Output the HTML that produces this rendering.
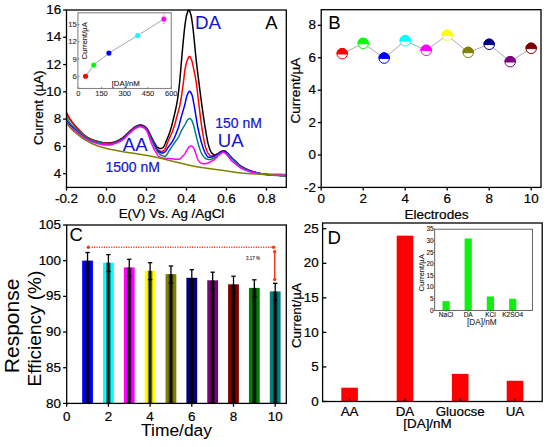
<!DOCTYPE html>
<html><head><meta charset="utf-8"><style>
html,body{margin:0;padding:0;background:#fff;}
svg{display:block;font-family:"Liberation Sans", sans-serif;}
</style></head><body>
<svg width="550" height="447" viewBox="0 0 550 447">
<rect width="550" height="447" fill="#fff"/>
<g>
<path d="M66.50,113.00 L66.74,113.47 L66.99,113.93 L67.23,114.39 L67.48,114.84 L67.72,115.29 L67.97,115.72 L68.21,116.16 L68.46,116.58 L68.70,117.00 L68.94,117.42 L69.19,117.83 L69.43,118.23 L69.68,118.62 L69.92,119.01 L70.17,119.39 L70.41,119.77 L70.66,120.14 L70.90,120.50 L71.15,120.85 L71.39,121.20 L71.63,121.54 L71.88,121.87 L72.12,122.20 L72.37,122.52 L72.61,122.84 L72.86,123.16 L73.10,123.47 L73.35,123.77 L73.59,124.08 L73.83,124.38 L74.08,124.67 L74.32,124.97 L74.57,125.26 L74.81,125.54 L75.06,125.82 L75.30,126.10 L75.55,126.37 L75.79,126.64 L76.04,126.91 L76.28,127.18 L76.52,127.44 L76.77,127.71 L77.01,127.98 L77.26,128.24 L77.50,128.51 L77.75,128.78 L77.99,129.05 L78.24,129.32 L78.48,129.59 L78.72,129.85 L78.97,130.12 L79.21,130.38 L79.46,130.64 L79.70,130.90 L79.95,131.15 L80.19,131.39 L80.44,131.64 L80.68,131.89 L80.93,132.13 L81.17,132.38 L81.41,132.62 L81.66,132.86 L81.90,133.10 L82.15,133.34 L82.39,133.57 L82.64,133.80 L82.88,134.02 L83.13,134.25 L83.37,134.46 L83.61,134.68 L83.86,134.88 L84.10,135.09 L84.35,135.29 L84.59,135.49 L84.84,135.68 L85.08,135.87 L85.33,136.06 L85.57,136.24 L85.82,136.42 L86.06,136.59 L86.30,136.75 L86.55,136.91 L86.79,137.05 L87.04,137.20 L87.28,137.34 L87.53,137.47 L87.77,137.61 L88.02,137.74 L88.26,137.87 L88.50,138.00 L88.75,138.13 L88.99,138.25 L89.24,138.37 L89.48,138.49 L89.73,138.61 L89.97,138.72 L90.22,138.83 L90.46,138.94 L90.70,139.05 L90.95,139.16 L91.19,139.26 L91.44,139.36 L91.68,139.46 L91.93,139.56 L92.17,139.66 L92.42,139.75 L92.66,139.84 L92.91,139.93 L93.15,140.01 L93.39,140.10 L93.64,140.18 L93.88,140.26 L94.13,140.34 L94.37,140.42 L94.62,140.49 L94.86,140.57 L95.11,140.64 L95.35,140.71 L95.59,140.78 L95.84,140.85 L96.08,140.91 L96.33,140.98 L96.57,141.05 L96.82,141.11 L97.06,141.17 L97.31,141.23 L97.55,141.30 L97.80,141.36 L98.04,141.42 L98.28,141.47 L98.53,141.53 L98.77,141.59 L99.02,141.65 L99.26,141.71 L99.51,141.76 L99.75,141.82 L100.00,141.88 L100.24,141.93 L100.48,141.99 L100.73,142.06 L100.97,142.12 L101.22,142.19 L101.46,142.25 L101.71,142.32 L101.95,142.39 L102.20,142.45 L102.44,142.51 L102.69,142.57 L102.93,142.63 L103.17,142.69 L103.42,142.73 L103.66,142.78 L103.91,142.82 L104.15,142.85 L104.40,142.87 L104.64,142.89 L104.89,142.90 L105.13,142.90 L105.37,142.90 L105.62,142.90 L105.86,142.90 L106.11,142.90 L106.35,142.90 L106.60,142.90 L106.84,142.90 L107.09,142.90 L107.33,142.90 L107.57,142.90 L107.82,142.90 L108.06,142.90 L108.31,142.90 L108.55,142.90 L108.80,142.90 L109.04,142.90 L109.29,142.90 L109.53,142.90 L109.78,142.90 L110.02,142.88 L110.26,142.87 L110.51,142.85 L110.75,142.82 L111.00,142.78 L111.24,142.75 L111.49,142.70 L111.73,142.66 L111.98,142.61 L112.22,142.55 L112.46,142.49 L112.71,142.43 L112.95,142.37 L113.20,142.31 L113.44,142.24 L113.69,142.17 L113.93,142.10 L114.18,142.04 L114.42,141.97 L114.67,141.90 L114.91,141.83 L115.15,141.76 L115.40,141.68 L115.64,141.60 L115.89,141.51 L116.13,141.42 L116.38,141.33 L116.62,141.23 L116.87,141.12 L117.11,141.01 L117.35,140.90 L117.60,140.78 L117.84,140.66 L118.09,140.54 L118.33,140.41 L118.58,140.28 L118.82,140.15 L119.07,140.01 L119.31,139.87 L119.56,139.73 L119.80,139.58 L120.04,139.44 L120.29,139.29 L120.53,139.14 L120.78,138.98 L121.02,138.83 L121.27,138.67 L121.51,138.52 L121.76,138.36 L122.00,138.20 L122.24,138.04 L122.49,137.87 L122.73,137.69 L122.98,137.50 L123.22,137.31 L123.47,137.11 L123.71,136.90 L123.96,136.69 L124.20,136.48 L124.45,136.26 L124.69,136.04 L124.93,135.81 L125.18,135.58 L125.42,135.34 L125.67,135.11 L125.91,134.87 L126.16,134.63 L126.40,134.39 L126.65,134.15 L126.89,133.91 L127.13,133.67 L127.38,133.43 L127.62,133.19 L127.87,132.95 L128.11,132.71 L128.36,132.48 L128.60,132.25 L128.85,132.02 L129.09,131.79 L129.33,131.57 L129.58,131.36 L129.82,131.15 L130.07,130.94 L130.31,130.73 L130.56,130.52 L130.80,130.31 L131.05,130.09 L131.29,129.87 L131.54,129.65 L131.78,129.43 L132.02,129.21 L132.27,128.99 L132.51,128.77 L132.76,128.56 L133.00,128.34 L133.25,128.14 L133.49,127.93 L133.74,127.74 L133.98,127.54 L134.22,127.36 L134.47,127.18 L134.71,127.02 L134.96,126.86 L135.20,126.71 L135.45,126.57 L135.69,126.44 L135.94,126.33 L136.18,126.22 L136.43,126.12 L136.67,126.01 L136.91,125.90 L137.16,125.80 L137.40,125.70 L137.65,125.60 L137.89,125.50 L138.14,125.41 L138.38,125.32 L138.63,125.24 L138.87,125.17 L139.11,125.10 L139.36,125.05 L139.60,125.00 L139.85,124.96 L140.09,124.93 L140.34,124.91 L140.58,124.90 L140.83,124.91 L141.07,124.93 L141.32,124.97 L141.56,125.02 L141.80,125.08 L142.05,125.16 L142.29,125.24 L142.54,125.34 L142.78,125.44 L143.03,125.54 L143.27,125.66 L143.52,125.77 L143.76,125.89 L144.00,126.00 L144.25,126.13 L144.49,126.28 L144.74,126.44 L144.98,126.62 L145.23,126.82 L145.47,127.03 L145.72,127.26 L145.96,127.50 L146.21,127.75 L146.45,128.01 L146.69,128.28 L146.94,128.56 L147.18,128.88 L147.43,129.23 L147.67,129.62 L147.92,130.03 L148.16,130.46 L148.41,130.91 L148.65,131.39 L148.89,131.87 L149.14,132.37 L149.38,132.88 L149.63,133.39 L149.87,133.91 L150.12,134.42 L150.36,134.93 L150.61,135.44 L150.85,135.93 L151.09,136.41 L151.34,136.87 L151.58,137.34 L151.83,137.81 L152.07,138.28 L152.32,138.76 L152.56,139.24 L152.81,139.72 L153.05,140.20 L153.30,140.67 L153.54,141.13 L153.78,141.58 L154.03,142.02 L154.27,142.45 L154.52,142.86 L154.76,143.27 L155.01,143.68 L155.25,144.10 L155.50,144.52 L155.74,144.93 L155.98,145.33 L156.23,145.71 L156.47,146.07 L156.72,146.40 L156.96,146.70 L157.21,146.96 L157.45,147.16 L157.70,147.34 L157.94,147.51 L158.19,147.67 L158.43,147.83 L158.67,147.98 L158.92,148.12 L159.16,148.25 L159.41,148.36 L159.65,148.45 L159.90,148.52 L160.14,148.57 L160.39,148.60 L160.63,148.60 L160.87,148.57 L161.12,148.51 L161.36,148.43 L161.61,148.33 L161.85,148.22 L162.10,148.08 L162.34,147.94 L162.59,147.78 L162.83,147.62 L163.08,147.44 L163.32,147.21 L163.56,146.91 L163.81,146.54 L164.05,146.12 L164.30,145.65 L164.54,145.15 L164.79,144.60 L165.03,144.03 L165.28,143.45 L165.52,142.85 L165.76,142.25 L166.01,141.65 L166.25,141.07 L166.50,140.50 L166.74,139.95 L166.99,139.38 L167.23,138.81 L167.48,138.23 L167.72,137.64 L167.96,137.04 L168.21,136.43 L168.45,135.81 L168.70,135.17 L168.94,134.52 L169.19,133.85 L169.43,133.17 L169.68,132.48 L169.92,131.76 L170.17,131.03 L170.41,130.28 L170.65,129.51 L170.90,128.70 L171.14,127.87 L171.39,127.00 L171.63,126.11 L171.88,125.19 L172.12,124.25 L172.37,123.29 L172.61,122.31 L172.85,121.31 L173.10,120.30 L173.34,119.28 L173.59,118.25 L173.83,117.21 L174.08,116.17 L174.32,115.14 L174.57,114.11 L174.81,113.07 L175.06,112.03 L175.30,110.97 L175.54,109.89 L175.79,108.78 L176.03,107.64 L176.28,106.46 L176.52,105.22 L176.77,103.94 L177.01,102.59 L177.26,101.17 L177.50,99.67 L177.74,98.05 L177.99,96.30 L178.23,94.44 L178.48,92.47 L178.72,90.40 L178.97,88.26 L179.21,86.04 L179.46,83.76 L179.70,81.42 L179.95,78.89 L180.19,76.19 L180.43,73.37 L180.68,70.48 L180.92,67.56 L181.17,64.67 L181.41,61.86 L181.66,59.07 L181.90,56.25 L182.15,53.43 L182.39,50.64 L182.63,47.91 L182.88,45.27 L183.12,42.72 L183.37,40.17 L183.61,37.64 L183.86,35.14 L184.10,32.72 L184.35,30.41 L184.59,28.24 L184.84,26.24 L185.08,24.43 L185.32,22.69 L185.57,21.01 L185.81,19.41 L186.06,17.93 L186.30,16.60 L186.55,15.46 L186.79,14.53 L187.04,13.73 L187.28,12.94 L187.52,12.19 L187.77,11.51 L188.01,10.93 L188.26,10.46 L188.50,10.15 L188.75,10.00 L188.99,10.06 L189.24,10.30 L189.48,10.71 L189.72,11.24 L189.97,11.89 L190.21,12.61 L190.46,13.38 L190.70,14.18 L190.95,15.03 L191.19,16.08 L191.44,17.33 L191.68,18.75 L191.93,20.30 L192.17,21.95 L192.41,23.67 L192.66,25.43 L192.90,27.37 L193.15,29.51 L193.39,31.81 L193.64,34.23 L193.88,36.72 L194.13,39.23 L194.37,41.72 L194.61,44.14 L194.86,46.58 L195.10,49.07 L195.35,51.59 L195.59,54.09 L195.84,56.54 L196.08,58.90 L196.33,61.15 L196.57,63.32 L196.82,65.45 L197.06,67.53 L197.30,69.57 L197.55,71.58 L197.79,73.56 L198.04,75.53 L198.28,77.48 L198.53,79.43 L198.77,81.37 L199.02,83.32 L199.26,85.27 L199.50,87.21 L199.75,89.14 L199.99,91.06 L200.24,92.96 L200.48,94.85 L200.73,96.72 L200.97,98.58 L201.22,100.41 L201.46,102.22 L201.71,104.01 L201.95,105.78 L202.19,107.54 L202.44,109.30 L202.68,111.05 L202.93,112.78 L203.17,114.50 L203.42,116.20 L203.66,117.88 L203.91,119.53 L204.15,121.15 L204.39,122.74 L204.64,124.29 L204.88,125.80 L205.13,127.27 L205.37,128.73 L205.62,130.20 L205.86,131.67 L206.11,133.14 L206.35,134.59 L206.59,136.00 L206.84,137.38 L207.08,138.72 L207.33,139.99 L207.57,141.20 L207.82,142.33 L208.06,143.38 L208.31,144.32 L208.55,145.17 L208.80,145.97 L209.04,146.75 L209.28,147.52 L209.53,148.25 L209.77,148.96 L210.02,149.63 L210.26,150.26 L210.51,150.84 L210.75,151.38 L211.00,151.86 L211.24,152.28 L211.48,152.64 L211.73,152.93 L211.97,153.16 L212.22,153.39 L212.46,153.61 L212.71,153.82 L212.95,154.01 L213.20,154.19 L213.44,154.35 L213.69,154.49 L213.93,154.60 L214.17,154.70 L214.42,154.76 L214.66,154.79 L214.91,154.80 L215.15,154.78 L215.40,154.73 L215.64,154.67 L215.89,154.60 L216.13,154.51 L216.37,154.41 L216.62,154.30 L216.86,154.18 L217.11,154.05 L217.35,153.93 L217.60,153.80 L217.84,153.68 L218.09,153.56 L218.33,153.41 L218.58,153.24 L218.82,153.06 L219.06,152.86 L219.31,152.66 L219.55,152.45 L219.80,152.25 L220.04,152.06 L220.29,151.88 L220.53,151.72 L220.78,151.59 L221.02,151.49 L221.26,151.41 L221.51,151.33 L221.75,151.25 L222.00,151.17 L222.24,151.10 L222.49,151.03 L222.73,150.97 L222.98,150.92 L223.22,150.88 L223.47,150.84 L223.71,150.82 L223.95,150.80 L224.20,150.80 L224.44,150.84 L224.69,150.92 L224.93,151.03 L225.18,151.16 L225.42,151.32 L225.67,151.50 L225.91,151.70 L226.15,151.90 L226.40,152.10 L226.64,152.31 L226.89,152.51 L227.13,152.71 L227.38,152.92 L227.62,153.15 L227.87,153.39 L228.11,153.65 L228.35,153.93 L228.60,154.21 L228.84,154.50 L229.09,154.79 L229.33,155.09 L229.58,155.39 L229.82,155.69 L230.07,155.99 L230.31,156.29 L230.56,156.58 L230.80,156.86 L231.04,157.13 L231.29,157.39 L231.53,157.63 L231.78,157.87 L232.02,158.11 L232.27,158.34 L232.51,158.57 L232.76,158.79 L233.00,159.02 L233.24,159.24 L233.49,159.45 L233.73,159.67 L233.98,159.89 L234.22,160.10 L234.47,160.32 L234.71,160.53 L234.96,160.75 L235.20,160.97 L235.45,161.19 L235.69,161.41 L235.93,161.63 L236.18,161.86 L236.42,162.09 L236.67,162.33 L236.91,162.57 L237.16,162.81 L237.40,163.05 L237.65,163.30 L237.89,163.54 L238.13,163.77 L238.38,164.01 L238.62,164.24 L238.87,164.46 L239.11,164.68 L239.36,164.89 L239.60,165.09 L239.85,165.28 L240.09,165.47 L240.34,165.64 L240.58,165.81 L240.82,165.98 L241.07,166.15 L241.31,166.31 L241.56,166.47 L241.80,166.62 L242.05,166.78 L242.29,166.92 L242.54,167.07 L242.78,167.21 L243.02,167.35 L243.27,167.49 L243.51,167.63 L243.76,167.76 L244.00,167.89 L244.25,168.02 L244.49,168.14 L244.74,168.27 L244.98,168.39 L245.23,168.51 L245.47,168.63 L245.71,168.75 L245.96,168.87 L246.20,168.98 L246.45,169.10 L246.69,169.21 L246.94,169.32 L247.18,169.44 L247.43,169.54 L247.67,169.65 L247.91,169.76 L248.16,169.87 L248.40,169.97 L248.65,170.07 L248.89,170.17 L249.14,170.27 L249.38,170.37 L249.63,170.47 L249.87,170.56 L250.11,170.65 L250.36,170.74 L250.60,170.83 L250.85,170.92 L251.09,171.00 L251.34,171.09 L251.58,171.17 L251.83,171.25 L252.07,171.32 L252.32,171.40 L252.56,171.47 L252.80,171.55 L253.05,171.62 L253.29,171.70 L253.54,171.77 L253.78,171.84 L254.03,171.92 L254.27,171.99 L254.52,172.06 L254.76,172.13 L255.00,172.20 L255.25,172.27 L255.49,172.34 L255.74,172.40 L255.98,172.47 L256.23,172.54 L256.47,172.60 L256.72,172.67 L256.96,172.73 L257.21,172.79 L257.45,172.85 L257.69,172.91 L257.94,172.97 L258.18,173.03 L258.43,173.09 L258.67,173.15 L258.92,173.20 L259.16,173.26 L259.41,173.31 L259.65,173.36 L259.89,173.41 L260.14,173.46 L260.38,173.51 L260.63,173.56 L260.87,173.60 L261.12,173.65 L261.36,173.69 L261.61,173.73 L261.85,173.77 L262.10,173.81 L262.34,173.85 L262.58,173.88 L262.83,173.92 L263.07,173.95 L263.32,173.99 L263.56,174.02 L263.81,174.05 L264.05,174.08 L264.30,174.11 L264.54,174.15 L264.78,174.18 L265.03,174.21 L265.27,174.24 L265.52,174.27 L265.76,174.29 L266.01,174.32 L266.25,174.35 L266.50,174.38 L266.74,174.41 L266.98,174.43 L267.23,174.46 L267.47,174.49 L267.72,174.51 L267.96,174.54 L268.21,174.56 L268.45,174.58 L268.70,174.61 L268.94,174.63 L269.19,174.66 L269.43,174.68 L269.67,174.70 L269.92,174.72 L270.16,174.74 L270.41,174.77 L270.65,174.79 L270.90,174.81 L271.14,174.83 L271.39,174.85 L271.63,174.87 L271.87,174.89 L272.12,174.90 L272.36,174.92 L272.61,174.94 L272.85,174.96 L273.10,174.98 L273.34,174.99 L273.59,175.01 L273.83,175.03 L274.08,175.04 L274.32,175.06 L274.56,175.07 L274.81,175.09 L275.05,175.10 L275.30,175.12 L275.54,175.13 L275.79,175.15 L276.03,175.16 L276.28,175.18 L276.52,175.19 L276.76,175.20 L277.01,175.22 L277.25,175.23 L277.50,175.25 L277.74,175.26 L277.99,175.27 L278.23,175.29 L278.48,175.30 L278.72,175.31 L278.97,175.32 L279.21,175.34 L279.45,175.35 L279.70,175.36 L279.94,175.37 L280.19,175.39 L280.43,175.40 L280.68,175.41 L280.92,175.42 L281.17,175.43 L281.41,175.44 L281.65,175.45 L281.90,175.46 L282.14,175.47 L282.39,175.48 L282.63,175.49 L282.88,175.50 L283.12,175.51 L283.37,175.52 L283.61,175.53 L283.86,175.54 L284.10,175.54 L284.34,175.55 L284.59,175.56 L284.83,175.56 L285.08,175.57 L285.32,175.58 L285.57,175.58 L285.81,175.59 L286.06,175.59 L286.30,175.60" fill="none" stroke="#000000" stroke-width="1.5" stroke-linejoin="round"/>
<path d="M66.50,112.50 L66.74,112.99 L66.99,113.48 L67.23,113.96 L67.48,114.43 L67.72,114.89 L67.97,115.35 L68.21,115.80 L68.46,116.25 L68.70,116.69 L68.94,117.12 L69.19,117.54 L69.43,117.96 L69.68,118.37 L69.92,118.77 L70.17,119.17 L70.41,119.55 L70.66,119.93 L70.90,120.31 L71.15,120.67 L71.39,121.03 L71.63,121.38 L71.88,121.72 L72.12,122.06 L72.37,122.39 L72.61,122.71 L72.86,123.03 L73.10,123.35 L73.35,123.66 L73.59,123.97 L73.83,124.27 L74.08,124.57 L74.32,124.87 L74.57,125.16 L74.81,125.45 L75.06,125.73 L75.30,126.00 L75.55,126.28 L75.79,126.55 L76.04,126.82 L76.28,127.08 L76.52,127.35 L76.77,127.61 L77.01,127.88 L77.26,128.14 L77.50,128.41 L77.75,128.68 L77.99,128.95 L78.24,129.22 L78.48,129.49 L78.72,129.75 L78.97,130.02 L79.21,130.28 L79.46,130.54 L79.70,130.80 L79.95,131.05 L80.19,131.29 L80.44,131.54 L80.68,131.79 L80.93,132.03 L81.17,132.28 L81.41,132.52 L81.66,132.76 L81.90,133.00 L82.15,133.24 L82.39,133.47 L82.64,133.70 L82.88,133.92 L83.13,134.15 L83.37,134.36 L83.61,134.58 L83.86,134.78 L84.10,134.99 L84.35,135.19 L84.59,135.38 L84.84,135.58 L85.08,135.77 L85.33,135.95 L85.57,136.13 L85.82,136.31 L86.06,136.48 L86.30,136.65 L86.55,136.80 L86.79,136.96 L87.04,137.11 L87.28,137.26 L87.53,137.40 L87.77,137.55 L88.02,137.69 L88.26,137.83 L88.50,137.97 L88.75,138.11 L88.99,138.25 L89.24,138.38 L89.48,138.51 L89.73,138.64 L89.97,138.77 L90.22,138.90 L90.46,139.02 L90.70,139.14 L90.95,139.26 L91.19,139.38 L91.44,139.49 L91.68,139.60 L91.93,139.71 L92.17,139.81 L92.42,139.92 L92.66,140.02 L92.91,140.11 L93.15,140.21 L93.39,140.30 L93.64,140.39 L93.88,140.47 L94.13,140.56 L94.37,140.64 L94.62,140.72 L94.86,140.80 L95.11,140.88 L95.35,140.95 L95.59,141.03 L95.84,141.10 L96.08,141.17 L96.33,141.24 L96.57,141.31 L96.82,141.38 L97.06,141.44 L97.31,141.51 L97.55,141.57 L97.80,141.64 L98.04,141.70 L98.28,141.76 L98.53,141.82 L98.77,141.88 L99.02,141.94 L99.26,142.00 L99.51,142.06 L99.75,142.12 L100.00,142.18 L100.24,142.23 L100.48,142.29 L100.73,142.35 L100.97,142.42 L101.22,142.48 L101.46,142.55 L101.71,142.61 L101.95,142.67 L102.20,142.73 L102.44,142.79 L102.69,142.85 L102.93,142.91 L103.17,142.96 L103.42,143.01 L103.66,143.05 L103.91,143.09 L104.15,143.13 L104.40,143.16 L104.64,143.18 L104.89,143.19 L105.13,143.21 L105.37,143.21 L105.62,143.22 L105.86,143.23 L106.11,143.24 L106.35,143.25 L106.60,143.26 L106.84,143.26 L107.09,143.27 L107.33,143.27 L107.57,143.28 L107.82,143.28 L108.06,143.29 L108.31,143.29 L108.55,143.29 L108.80,143.30 L109.04,143.30 L109.29,143.30 L109.53,143.30 L109.78,143.30 L110.02,143.29 L110.26,143.27 L110.51,143.25 L110.75,143.23 L111.00,143.20 L111.24,143.16 L111.49,143.12 L111.73,143.08 L111.98,143.03 L112.22,142.99 L112.46,142.93 L112.71,142.88 L112.95,142.82 L113.20,142.76 L113.44,142.70 L113.69,142.64 L113.93,142.58 L114.18,142.52 L114.42,142.45 L114.67,142.39 L114.91,142.32 L115.15,142.26 L115.40,142.19 L115.64,142.11 L115.89,142.03 L116.13,141.95 L116.38,141.85 L116.62,141.76 L116.87,141.66 L117.11,141.55 L117.35,141.44 L117.60,141.33 L117.84,141.21 L118.09,141.09 L118.33,140.97 L118.58,140.84 L118.82,140.71 L119.07,140.58 L119.31,140.44 L119.56,140.30 L119.80,140.16 L120.04,140.02 L120.29,139.87 L120.53,139.72 L120.78,139.57 L121.02,139.42 L121.27,139.27 L121.51,139.11 L121.76,138.96 L122.00,138.80 L122.24,138.64 L122.49,138.47 L122.73,138.29 L122.98,138.10 L123.22,137.91 L123.47,137.71 L123.71,137.50 L123.96,137.29 L124.20,137.07 L124.45,136.85 L124.69,136.62 L124.93,136.39 L125.18,136.16 L125.42,135.92 L125.67,135.68 L125.91,135.44 L126.16,135.19 L126.40,134.95 L126.65,134.70 L126.89,134.45 L127.13,134.21 L127.38,133.96 L127.62,133.72 L127.87,133.48 L128.11,133.23 L128.36,133.00 L128.60,132.76 L128.85,132.53 L129.09,132.30 L129.33,132.08 L129.58,131.86 L129.82,131.65 L130.07,131.44 L130.31,131.23 L130.56,131.02 L130.80,130.80 L131.05,130.59 L131.29,130.37 L131.54,130.15 L131.78,129.92 L132.02,129.70 L132.27,129.48 L132.51,129.27 L132.76,129.05 L133.00,128.84 L133.25,128.63 L133.49,128.43 L133.74,128.23 L133.98,128.04 L134.22,127.86 L134.47,127.68 L134.71,127.51 L134.96,127.36 L135.20,127.21 L135.45,127.07 L135.69,126.94 L135.94,126.83 L136.18,126.72 L136.43,126.62 L136.67,126.51 L136.91,126.40 L137.16,126.30 L137.40,126.20 L137.65,126.10 L137.89,126.00 L138.14,125.91 L138.38,125.82 L138.63,125.74 L138.87,125.67 L139.11,125.60 L139.36,125.55 L139.60,125.50 L139.85,125.46 L140.09,125.43 L140.34,125.41 L140.58,125.40 L140.83,125.41 L141.07,125.43 L141.32,125.47 L141.56,125.52 L141.80,125.58 L142.05,125.66 L142.29,125.74 L142.54,125.84 L142.78,125.94 L143.03,126.04 L143.27,126.15 L143.52,126.27 L143.76,126.38 L144.00,126.50 L144.25,126.63 L144.49,126.78 L144.74,126.95 L144.98,127.14 L145.23,127.35 L145.47,127.57 L145.72,127.81 L145.96,128.06 L146.21,128.32 L146.45,128.59 L146.69,128.88 L146.94,129.17 L147.18,129.49 L147.43,129.85 L147.67,130.24 L147.92,130.65 L148.16,131.09 L148.41,131.55 L148.65,132.02 L148.89,132.51 L149.14,133.01 L149.38,133.52 L149.63,134.04 L149.87,134.56 L150.12,135.08 L150.36,135.59 L150.61,136.10 L150.85,136.61 L151.09,137.10 L151.34,137.58 L151.58,138.05 L151.83,138.54 L152.07,139.02 L152.32,139.52 L152.56,140.01 L152.81,140.50 L153.05,140.99 L153.30,141.49 L153.54,141.97 L153.78,142.45 L154.03,142.93 L154.27,143.39 L154.52,143.85 L154.76,144.30 L155.01,144.77 L155.25,145.26 L155.50,145.76 L155.74,146.26 L155.98,146.75 L156.23,147.23 L156.47,147.70 L156.72,148.14 L156.96,148.55 L157.21,148.92 L157.45,149.25 L157.70,149.53 L157.94,149.76 L158.19,149.93 L158.43,150.11 L158.67,150.27 L158.92,150.43 L159.16,150.59 L159.41,150.73 L159.65,150.87 L159.90,150.99 L160.14,151.10 L160.39,151.19 L160.63,151.27 L160.87,151.33 L161.12,151.37 L161.36,151.40 L161.61,151.40 L161.85,151.37 L162.10,151.32 L162.34,151.24 L162.59,151.14 L162.83,151.03 L163.08,150.89 L163.32,150.75 L163.56,150.59 L163.81,150.43 L164.05,150.26 L164.30,150.04 L164.54,149.74 L164.79,149.37 L165.03,148.95 L165.28,148.47 L165.52,147.94 L165.76,147.37 L166.01,146.77 L166.25,146.15 L166.50,145.50 L166.74,144.84 L166.99,144.17 L167.23,143.50 L167.48,142.84 L167.72,142.19 L167.96,141.56 L168.21,140.95 L168.45,140.38 L168.70,139.82 L168.94,139.27 L169.19,138.72 L169.43,138.18 L169.68,137.64 L169.92,137.11 L170.17,136.57 L170.41,136.03 L170.65,135.49 L170.90,134.95 L171.14,134.40 L171.39,133.84 L171.63,133.27 L171.88,132.70 L172.12,132.11 L172.37,131.51 L172.61,130.90 L172.85,130.28 L173.10,129.63 L173.34,128.97 L173.59,128.29 L173.83,127.59 L174.08,126.87 L174.32,126.10 L174.57,125.28 L174.81,124.42 L175.06,123.53 L175.30,122.61 L175.54,121.66 L175.79,120.71 L176.03,119.75 L176.28,118.78 L176.52,117.83 L176.77,116.88 L177.01,115.96 L177.26,115.06 L177.50,114.20 L177.74,113.35 L177.99,112.51 L178.23,111.66 L178.48,110.81 L178.72,109.94 L178.97,109.04 L179.21,108.10 L179.46,107.11 L179.70,106.07 L179.95,104.96 L180.19,103.77 L180.43,102.48 L180.68,101.11 L180.92,99.67 L181.17,98.15 L181.41,96.57 L181.66,94.94 L181.90,93.25 L182.15,91.54 L182.39,89.79 L182.63,88.01 L182.88,86.22 L183.12,84.43 L183.37,82.63 L183.61,80.74 L183.86,78.64 L184.10,76.44 L184.35,74.28 L184.59,72.25 L184.84,70.48 L185.08,69.08 L185.32,67.82 L185.57,66.63 L185.81,65.51 L186.06,64.47 L186.30,63.50 L186.55,62.60 L186.79,61.77 L187.04,61.02 L187.28,60.34 L187.52,59.74 L187.77,59.16 L188.01,58.58 L188.26,58.02 L188.50,57.51 L188.75,57.07 L188.99,56.72 L189.24,56.49 L189.48,56.40 L189.72,56.47 L189.97,56.67 L190.21,57.00 L190.46,57.42 L190.70,57.92 L190.95,58.47 L191.19,59.05 L191.44,59.65 L191.68,60.28 L191.93,61.05 L192.17,61.94 L192.41,62.94 L192.66,64.02 L192.90,65.16 L193.15,66.34 L193.39,67.53 L193.64,68.72 L193.88,69.88 L194.13,71.05 L194.37,72.23 L194.61,73.44 L194.86,74.69 L195.10,75.97 L195.35,77.30 L195.59,78.69 L195.84,80.13 L196.08,81.64 L196.33,83.24 L196.57,84.98 L196.82,86.86 L197.06,88.84 L197.30,90.91 L197.55,93.03 L197.79,95.19 L198.04,97.35 L198.28,99.50 L198.53,101.61 L198.77,103.66 L199.02,105.63 L199.26,107.61 L199.50,109.61 L199.75,111.62 L199.99,113.62 L200.24,115.60 L200.48,117.56 L200.73,119.47 L200.97,121.33 L201.22,123.13 L201.46,124.86 L201.71,126.49 L201.95,128.05 L202.19,129.59 L202.44,131.12 L202.68,132.64 L202.93,134.13 L203.17,135.59 L203.42,137.02 L203.66,138.41 L203.91,139.75 L204.15,141.03 L204.39,142.26 L204.64,143.41 L204.88,144.50 L205.13,145.50 L205.37,146.42 L205.62,147.25 L205.86,148.03 L206.11,148.76 L206.35,149.46 L206.59,150.12 L206.84,150.73 L207.08,151.30 L207.33,151.83 L207.57,152.30 L207.82,152.72 L208.06,153.09 L208.31,153.44 L208.55,153.79 L208.80,154.14 L209.04,154.47 L209.28,154.78 L209.53,155.07 L209.77,155.33 L210.02,155.56 L210.26,155.74 L210.51,155.88 L210.75,155.97 L211.00,156.00 L211.24,156.00 L211.48,155.98 L211.73,155.96 L211.97,155.93 L212.22,155.89 L212.46,155.85 L212.71,155.80 L212.95,155.74 L213.20,155.69 L213.44,155.63 L213.69,155.57 L213.93,155.52 L214.17,155.46 L214.42,155.39 L214.66,155.31 L214.91,155.23 L215.15,155.14 L215.40,155.04 L215.64,154.94 L215.89,154.83 L216.13,154.72 L216.37,154.61 L216.62,154.49 L216.86,154.37 L217.11,154.25 L217.35,154.13 L217.60,154.00 L217.84,153.88 L218.09,153.76 L218.33,153.62 L218.58,153.47 L218.82,153.31 L219.06,153.15 L219.31,152.98 L219.55,152.81 L219.80,152.65 L220.04,152.49 L220.29,152.34 L220.53,152.21 L220.78,152.09 L221.02,151.99 L221.26,151.90 L221.51,151.81 L221.75,151.72 L222.00,151.64 L222.24,151.56 L222.49,151.48 L222.73,151.41 L222.98,151.35 L223.22,151.29 L223.47,151.25 L223.71,151.22 L223.95,151.20 L224.20,151.20 L224.44,151.24 L224.69,151.31 L224.93,151.41 L225.18,151.54 L225.42,151.69 L225.67,151.86 L225.91,152.04 L226.15,152.23 L226.40,152.43 L226.64,152.62 L226.89,152.82 L227.13,153.00 L227.38,153.21 L227.62,153.43 L227.87,153.67 L228.11,153.92 L228.35,154.18 L228.60,154.46 L228.84,154.74 L229.09,155.03 L229.33,155.32 L229.58,155.62 L229.82,155.92 L230.07,156.21 L230.31,156.50 L230.56,156.79 L230.80,157.06 L231.04,157.33 L231.29,157.59 L231.53,157.83 L231.78,158.07 L232.02,158.30 L232.27,158.54 L232.51,158.76 L232.76,158.99 L233.00,159.21 L233.24,159.43 L233.49,159.65 L233.73,159.87 L233.98,160.08 L234.22,160.30 L234.47,160.51 L234.71,160.73 L234.96,160.95 L235.20,161.17 L235.45,161.39 L235.69,161.61 L235.93,161.83 L236.18,162.06 L236.42,162.29 L236.67,162.53 L236.91,162.77 L237.16,163.01 L237.40,163.25 L237.65,163.50 L237.89,163.74 L238.13,163.97 L238.38,164.21 L238.62,164.44 L238.87,164.66 L239.11,164.88 L239.36,165.09 L239.60,165.29 L239.85,165.48 L240.09,165.67 L240.34,165.84 L240.58,166.02 L240.82,166.18 L241.07,166.35 L241.31,166.51 L241.56,166.67 L241.80,166.83 L242.05,166.98 L242.29,167.13 L242.54,167.28 L242.78,167.42 L243.02,167.56 L243.27,167.70 L243.51,167.83 L243.76,167.97 L244.00,168.10 L244.25,168.22 L244.49,168.35 L244.74,168.47 L244.98,168.59 L245.23,168.71 L245.47,168.83 L245.71,168.94 L245.96,169.06 L246.20,169.17 L246.45,169.28 L246.69,169.39 L246.94,169.50 L247.18,169.61 L247.43,169.71 L247.67,169.82 L247.91,169.92 L248.16,170.02 L248.40,170.12 L248.65,170.22 L248.89,170.32 L249.14,170.41 L249.38,170.51 L249.63,170.60 L249.87,170.69 L250.11,170.78 L250.36,170.86 L250.60,170.95 L250.85,171.03 L251.09,171.11 L251.34,171.19 L251.58,171.27 L251.83,171.35 L252.07,171.42 L252.32,171.49 L252.56,171.57 L252.80,171.64 L253.05,171.71 L253.29,171.78 L253.54,171.85 L253.78,171.92 L254.03,171.99 L254.27,172.06 L254.52,172.13 L254.76,172.20 L255.00,172.26 L255.25,172.33 L255.49,172.39 L255.74,172.46 L255.98,172.52 L256.23,172.59 L256.47,172.65 L256.72,172.71 L256.96,172.77 L257.21,172.83 L257.45,172.89 L257.69,172.95 L257.94,173.01 L258.18,173.06 L258.43,173.12 L258.67,173.17 L258.92,173.22 L259.16,173.28 L259.41,173.33 L259.65,173.38 L259.89,173.43 L260.14,173.47 L260.38,173.52 L260.63,173.57 L260.87,173.61 L261.12,173.65 L261.36,173.69 L261.61,173.73 L261.85,173.77 L262.10,173.81 L262.34,173.85 L262.58,173.88 L262.83,173.92 L263.07,173.95 L263.32,173.98 L263.56,174.02 L263.81,174.05 L264.05,174.08 L264.30,174.11 L264.54,174.14 L264.78,174.17 L265.03,174.20 L265.27,174.23 L265.52,174.26 L265.76,174.29 L266.01,174.32 L266.25,174.35 L266.50,174.38 L266.74,174.40 L266.98,174.43 L267.23,174.46 L267.47,174.48 L267.72,174.51 L267.96,174.53 L268.21,174.56 L268.45,174.58 L268.70,174.61 L268.94,174.63 L269.19,174.65 L269.43,174.68 L269.67,174.70 L269.92,174.72 L270.16,174.74 L270.41,174.76 L270.65,174.78 L270.90,174.81 L271.14,174.83 L271.39,174.85 L271.63,174.87 L271.87,174.88 L272.12,174.90 L272.36,174.92 L272.61,174.94 L272.85,174.96 L273.10,174.98 L273.34,174.99 L273.59,175.01 L273.83,175.03 L274.08,175.04 L274.32,175.06 L274.56,175.07 L274.81,175.09 L275.05,175.10 L275.30,175.12 L275.54,175.13 L275.79,175.15 L276.03,175.16 L276.28,175.18 L276.52,175.19 L276.76,175.20 L277.01,175.22 L277.25,175.23 L277.50,175.25 L277.74,175.26 L277.99,175.27 L278.23,175.29 L278.48,175.30 L278.72,175.31 L278.97,175.32 L279.21,175.34 L279.45,175.35 L279.70,175.36 L279.94,175.37 L280.19,175.39 L280.43,175.40 L280.68,175.41 L280.92,175.42 L281.17,175.43 L281.41,175.44 L281.65,175.45 L281.90,175.46 L282.14,175.47 L282.39,175.48 L282.63,175.49 L282.88,175.50 L283.12,175.51 L283.37,175.52 L283.61,175.53 L283.86,175.54 L284.10,175.54 L284.34,175.55 L284.59,175.56 L284.83,175.56 L285.08,175.57 L285.32,175.58 L285.57,175.58 L285.81,175.59 L286.06,175.59 L286.30,175.60" fill="none" stroke="#ff0000" stroke-width="1.5" stroke-linejoin="round"/>
<path d="M66.50,120.40 L66.74,120.73 L66.99,121.06 L67.23,121.38 L67.48,121.69 L67.72,122.01 L67.97,122.31 L68.21,122.62 L68.46,122.91 L68.70,123.20 L68.94,123.49 L69.19,123.77 L69.43,124.05 L69.68,124.32 L69.92,124.59 L70.17,124.85 L70.41,125.11 L70.66,125.36 L70.90,125.60 L71.15,125.84 L71.39,126.07 L71.63,126.29 L71.88,126.51 L72.12,126.73 L72.37,126.94 L72.61,127.15 L72.86,127.36 L73.10,127.56 L73.35,127.77 L73.59,127.97 L73.83,128.18 L74.08,128.38 L74.32,128.59 L74.57,128.79 L74.81,128.99 L75.06,129.20 L75.30,129.39 L75.55,129.59 L75.79,129.79 L76.04,129.99 L76.28,130.18 L76.52,130.38 L76.77,130.58 L77.01,130.78 L77.26,130.98 L77.50,131.19 L77.75,131.39 L77.99,131.60 L78.24,131.81 L78.48,132.02 L78.72,132.23 L78.97,132.44 L79.21,132.65 L79.46,132.85 L79.70,133.06 L79.95,133.26 L80.19,133.46 L80.44,133.65 L80.68,133.85 L80.93,134.04 L81.17,134.24 L81.41,134.43 L81.66,134.62 L81.90,134.81 L82.15,135.00 L82.39,135.19 L82.64,135.38 L82.88,135.56 L83.13,135.75 L83.37,135.93 L83.61,136.12 L83.86,136.30 L84.10,136.48 L84.35,136.66 L84.59,136.84 L84.84,137.03 L85.08,137.21 L85.33,137.39 L85.57,137.57 L85.82,137.74 L86.06,137.90 L86.30,138.06 L86.55,138.21 L86.79,138.35 L87.04,138.49 L87.28,138.62 L87.53,138.75 L87.77,138.88 L88.02,139.01 L88.26,139.14 L88.50,139.26 L88.75,139.38 L88.99,139.50 L89.24,139.62 L89.48,139.73 L89.73,139.85 L89.97,139.96 L90.22,140.07 L90.46,140.17 L90.70,140.28 L90.95,140.38 L91.19,140.48 L91.44,140.58 L91.68,140.68 L91.93,140.77 L92.17,140.86 L92.42,140.95 L92.66,141.04 L92.91,141.13 L93.15,141.21 L93.39,141.30 L93.64,141.38 L93.88,141.46 L94.13,141.54 L94.37,141.62 L94.62,141.69 L94.86,141.77 L95.11,141.84 L95.35,141.91 L95.59,141.98 L95.84,142.05 L96.08,142.12 L96.33,142.19 L96.57,142.25 L96.82,142.32 L97.06,142.38 L97.31,142.44 L97.55,142.51 L97.80,142.57 L98.04,142.63 L98.28,142.69 L98.53,142.75 L98.77,142.80 L99.02,142.86 L99.26,142.91 L99.51,142.97 L99.75,143.02 L100.00,143.08 L100.24,143.13 L100.48,143.19 L100.73,143.24 L100.97,143.30 L101.22,143.36 L101.46,143.41 L101.71,143.47 L101.95,143.53 L102.20,143.58 L102.44,143.63 L102.69,143.69 L102.93,143.74 L103.17,143.78 L103.42,143.83 L103.66,143.87 L103.91,143.90 L104.15,143.93 L104.40,143.96 L104.64,143.98 L104.89,143.99 L105.13,144.01 L105.37,144.01 L105.62,144.02 L105.86,144.03 L106.11,144.04 L106.35,144.05 L106.60,144.05 L106.84,144.06 L107.09,144.07 L107.33,144.07 L107.57,144.08 L107.82,144.08 L108.06,144.09 L108.31,144.09 L108.55,144.09 L108.80,144.10 L109.04,144.10 L109.29,144.10 L109.53,144.10 L109.78,144.10 L110.02,144.08 L110.26,144.06 L110.51,144.04 L110.75,144.01 L111.00,143.97 L111.24,143.93 L111.49,143.88 L111.73,143.83 L111.98,143.77 L112.22,143.71 L112.46,143.65 L112.71,143.59 L112.95,143.52 L113.20,143.45 L113.44,143.38 L113.69,143.30 L113.93,143.23 L114.18,143.15 L114.42,143.08 L114.67,143.00 L114.91,142.93 L115.15,142.85 L115.40,142.77 L115.64,142.69 L115.89,142.60 L116.13,142.51 L116.38,142.41 L116.62,142.31 L116.87,142.20 L117.11,142.10 L117.35,141.98 L117.60,141.87 L117.84,141.75 L118.09,141.62 L118.33,141.50 L118.58,141.37 L118.82,141.23 L119.07,141.10 L119.31,140.96 L119.56,140.82 L119.80,140.68 L120.04,140.53 L120.29,140.38 L120.53,140.23 L120.78,140.08 L121.02,139.93 L121.27,139.77 L121.51,139.62 L121.76,139.46 L122.00,139.30 L122.24,139.14 L122.49,138.96 L122.73,138.78 L122.98,138.59 L123.22,138.40 L123.47,138.20 L123.71,137.99 L123.96,137.78 L124.20,137.56 L124.45,137.34 L124.69,137.11 L124.93,136.88 L125.18,136.64 L125.42,136.41 L125.67,136.17 L125.91,135.92 L126.16,135.68 L126.40,135.44 L126.65,135.19 L126.89,134.94 L127.13,134.70 L127.38,134.46 L127.62,134.21 L127.87,133.97 L128.11,133.73 L128.36,133.49 L128.60,133.26 L128.85,133.03 L129.09,132.80 L129.33,132.58 L129.58,132.36 L129.82,132.15 L130.07,131.94 L130.31,131.73 L130.56,131.52 L130.80,131.30 L131.05,131.09 L131.29,130.87 L131.54,130.65 L131.78,130.42 L132.02,130.20 L132.27,129.98 L132.51,129.77 L132.76,129.55 L133.00,129.34 L133.25,129.13 L133.49,128.93 L133.74,128.73 L133.98,128.54 L134.22,128.36 L134.47,128.18 L134.71,128.01 L134.96,127.86 L135.20,127.71 L135.45,127.57 L135.69,127.44 L135.94,127.33 L136.18,127.22 L136.43,127.12 L136.67,127.01 L136.91,126.90 L137.16,126.80 L137.40,126.70 L137.65,126.60 L137.89,126.50 L138.14,126.41 L138.38,126.32 L138.63,126.24 L138.87,126.17 L139.11,126.10 L139.36,126.05 L139.60,126.00 L139.85,125.96 L140.09,125.93 L140.34,125.91 L140.58,125.90 L140.83,125.91 L141.07,125.93 L141.32,125.97 L141.56,126.02 L141.80,126.08 L142.05,126.15 L142.29,126.24 L142.54,126.33 L142.78,126.43 L143.03,126.53 L143.27,126.65 L143.52,126.76 L143.76,126.88 L144.00,127.00 L144.25,127.14 L144.49,127.30 L144.74,127.50 L144.98,127.71 L145.23,127.95 L145.47,128.20 L145.72,128.47 L145.96,128.75 L146.21,129.05 L146.45,129.35 L146.69,129.66 L146.94,129.98 L147.18,130.33 L147.43,130.71 L147.67,131.12 L147.92,131.55 L148.16,132.00 L148.41,132.47 L148.65,132.95 L148.89,133.45 L149.14,133.96 L149.38,134.48 L149.63,135.00 L149.87,135.53 L150.12,136.05 L150.36,136.57 L150.61,137.09 L150.85,137.60 L151.09,138.09 L151.34,138.58 L151.58,139.06 L151.83,139.54 L152.07,140.03 L152.32,140.53 L152.56,141.02 L152.81,141.51 L153.05,142.00 L153.30,142.49 L153.54,142.98 L153.78,143.46 L154.03,143.93 L154.27,144.39 L154.52,144.85 L154.76,145.30 L155.01,145.77 L155.25,146.25 L155.50,146.74 L155.74,147.23 L155.98,147.71 L156.23,148.18 L156.47,148.64 L156.72,149.08 L156.96,149.49 L157.21,149.87 L157.45,150.21 L157.70,150.50 L157.94,150.75 L158.19,150.96 L158.43,151.16 L158.67,151.36 L158.92,151.55 L159.16,151.74 L159.41,151.92 L159.65,152.10 L159.90,152.26 L160.14,152.41 L160.39,152.54 L160.63,152.66 L160.87,152.77 L161.12,152.85 L161.36,152.92 L161.61,152.97 L161.85,153.00 L162.10,153.00 L162.34,152.98 L162.59,152.94 L162.83,152.88 L163.08,152.80 L163.32,152.71 L163.56,152.61 L163.81,152.49 L164.05,152.36 L164.30,152.22 L164.54,152.08 L164.79,151.93 L165.03,151.78 L165.28,151.59 L165.52,151.34 L165.76,151.05 L166.01,150.71 L166.25,150.35 L166.50,149.96 L166.74,149.55 L166.99,149.13 L167.23,148.72 L167.48,148.31 L167.72,147.92 L167.96,147.55 L168.21,147.20 L168.45,146.86 L168.70,146.53 L168.94,146.20 L169.19,145.88 L169.43,145.56 L169.68,145.24 L169.92,144.91 L170.17,144.59 L170.41,144.27 L170.65,143.94 L170.90,143.60 L171.14,143.26 L171.39,142.91 L171.63,142.55 L171.88,142.19 L172.12,141.81 L172.37,141.41 L172.61,141.00 L172.85,140.58 L173.10,140.14 L173.34,139.69 L173.59,139.22 L173.83,138.74 L174.08,138.25 L174.32,137.74 L174.57,137.22 L174.81,136.68 L175.06,136.14 L175.30,135.58 L175.54,135.01 L175.79,134.42 L176.03,133.82 L176.28,133.21 L176.52,132.59 L176.77,131.95 L177.01,131.30 L177.26,130.64 L177.50,129.97 L177.74,129.29 L177.99,128.59 L178.23,127.88 L178.48,127.16 L178.72,126.41 L178.97,125.61 L179.21,124.75 L179.46,123.86 L179.70,122.93 L179.95,121.99 L180.19,121.02 L180.43,120.06 L180.68,119.10 L180.92,118.15 L181.17,117.22 L181.41,116.32 L181.66,115.45 L181.90,114.60 L182.15,113.76 L182.39,112.94 L182.63,112.13 L182.88,111.32 L183.12,110.51 L183.37,109.69 L183.61,108.87 L183.86,108.05 L184.10,107.21 L184.35,106.35 L184.59,105.47 L184.84,104.57 L185.08,103.59 L185.32,102.52 L185.57,101.40 L185.81,100.27 L186.06,99.14 L186.30,98.06 L186.55,97.06 L186.79,96.16 L187.04,95.41 L187.28,94.82 L187.52,94.27 L187.77,93.74 L188.01,93.22 L188.26,92.74 L188.50,92.31 L188.75,91.93 L188.99,91.64 L189.24,91.43 L189.48,91.31 L189.72,91.31 L189.97,91.42 L190.21,91.62 L190.46,91.91 L190.70,92.27 L190.95,92.70 L191.19,93.18 L191.44,93.70 L191.68,94.25 L191.93,94.82 L192.17,95.47 L192.41,96.34 L192.66,97.40 L192.90,98.62 L193.15,99.93 L193.39,101.31 L193.64,102.70 L193.88,104.06 L194.13,105.37 L194.37,106.72 L194.61,108.13 L194.86,109.58 L195.10,111.06 L195.35,112.57 L195.59,114.10 L195.84,115.63 L196.08,117.16 L196.33,118.69 L196.57,120.19 L196.82,121.66 L197.06,123.09 L197.30,124.48 L197.55,125.80 L197.79,127.07 L198.04,128.28 L198.28,129.46 L198.53,130.62 L198.77,131.74 L199.02,132.85 L199.26,133.92 L199.50,134.98 L199.75,136.00 L199.99,137.00 L200.24,137.98 L200.48,138.93 L200.73,139.87 L200.97,140.78 L201.22,141.68 L201.46,142.56 L201.71,143.42 L201.95,144.25 L202.19,145.05 L202.44,145.83 L202.68,146.57 L202.93,147.28 L203.17,147.97 L203.42,148.65 L203.66,149.32 L203.91,149.97 L204.15,150.60 L204.39,151.21 L204.64,151.78 L204.88,152.32 L205.13,152.82 L205.37,153.28 L205.62,153.70 L205.86,154.12 L206.11,154.55 L206.35,154.97 L206.59,155.39 L206.84,155.78 L207.08,156.15 L207.33,156.48 L207.57,156.77 L207.82,157.00 L208.06,157.17 L208.31,157.27 L208.55,157.30 L208.80,157.30 L209.04,157.29 L209.28,157.28 L209.53,157.27 L209.77,157.25 L210.02,157.23 L210.26,157.21 L210.51,157.19 L210.75,157.16 L211.00,157.13 L211.24,157.10 L211.48,157.07 L211.73,157.04 L211.97,157.00 L212.22,156.96 L212.46,156.90 L212.71,156.82 L212.95,156.73 L213.20,156.62 L213.44,156.50 L213.69,156.37 L213.93,156.24 L214.17,156.09 L214.42,155.95 L214.66,155.79 L214.91,155.64 L215.15,155.49 L215.40,155.34 L215.64,155.20 L215.89,155.06 L216.13,154.93 L216.37,154.79 L216.62,154.65 L216.86,154.50 L217.11,154.35 L217.35,154.20 L217.60,154.04 L217.84,153.89 L218.09,153.74 L218.33,153.59 L218.58,153.44 L218.82,153.29 L219.06,153.16 L219.31,153.03 L219.55,152.90 L219.80,152.79 L220.04,152.68 L220.29,152.58 L220.53,152.47 L220.78,152.36 L221.02,152.25 L221.26,152.15 L221.51,152.04 L221.75,151.94 L222.00,151.84 L222.24,151.75 L222.49,151.67 L222.73,151.60 L222.98,151.53 L223.22,151.48 L223.47,151.44 L223.71,151.41 L223.95,151.40 L224.20,151.41 L224.44,151.46 L224.69,151.54 L224.93,151.64 L225.18,151.77 L225.42,151.92 L225.67,152.09 L225.91,152.26 L226.15,152.45 L226.40,152.64 L226.64,152.83 L226.89,153.02 L227.13,153.20 L227.38,153.40 L227.62,153.63 L227.87,153.87 L228.11,154.13 L228.35,154.40 L228.60,154.68 L228.84,154.97 L229.09,155.27 L229.33,155.57 L229.58,155.87 L229.82,156.18 L230.07,156.48 L230.31,156.78 L230.56,157.07 L230.80,157.35 L231.04,157.63 L231.29,157.89 L231.53,158.13 L231.78,158.37 L232.02,158.61 L232.27,158.84 L232.51,159.07 L232.76,159.29 L233.00,159.52 L233.24,159.74 L233.49,159.95 L233.73,160.17 L233.98,160.39 L234.22,160.60 L234.47,160.82 L234.71,161.03 L234.96,161.25 L235.20,161.47 L235.45,161.69 L235.69,161.91 L235.93,162.13 L236.18,162.36 L236.42,162.59 L236.67,162.83 L236.91,163.07 L237.16,163.32 L237.40,163.56 L237.65,163.80 L237.89,164.04 L238.13,164.28 L238.38,164.52 L238.62,164.75 L238.87,164.97 L239.11,165.19 L239.36,165.40 L239.60,165.60 L239.85,165.79 L240.09,165.96 L240.34,166.14 L240.58,166.31 L240.82,166.47 L241.07,166.63 L241.31,166.79 L241.56,166.94 L241.80,167.09 L242.05,167.24 L242.29,167.39 L242.54,167.53 L242.78,167.67 L243.02,167.80 L243.27,167.93 L243.51,168.06 L243.76,168.19 L244.00,168.31 L244.25,168.44 L244.49,168.56 L244.74,168.68 L244.98,168.79 L245.23,168.90 L245.47,169.02 L245.71,169.13 L245.96,169.24 L246.20,169.35 L246.45,169.46 L246.69,169.56 L246.94,169.67 L247.18,169.77 L247.43,169.87 L247.67,169.97 L247.91,170.07 L248.16,170.17 L248.40,170.26 L248.65,170.36 L248.89,170.45 L249.14,170.54 L249.38,170.63 L249.63,170.72 L249.87,170.81 L250.11,170.89 L250.36,170.98 L250.60,171.06 L250.85,171.14 L251.09,171.22 L251.34,171.30 L251.58,171.37 L251.83,171.45 L252.07,171.52 L252.32,171.59 L252.56,171.66 L252.80,171.74 L253.05,171.81 L253.29,171.88 L253.54,171.95 L253.78,172.02 L254.03,172.09 L254.27,172.15 L254.52,172.22 L254.76,172.29 L255.00,172.36 L255.25,172.42 L255.49,172.49 L255.74,172.55 L255.98,172.62 L256.23,172.68 L256.47,172.74 L256.72,172.80 L256.96,172.86 L257.21,172.92 L257.45,172.98 L257.69,173.04 L257.94,173.10 L258.18,173.16 L258.43,173.21 L258.67,173.27 L258.92,173.32 L259.16,173.37 L259.41,173.42 L259.65,173.47 L259.89,173.52 L260.14,173.57 L260.38,173.62 L260.63,173.66 L260.87,173.71 L261.12,173.75 L261.36,173.79 L261.61,173.83 L261.85,173.87 L262.10,173.91 L262.34,173.95 L262.58,173.98 L262.83,174.02 L263.07,174.05 L263.32,174.08 L263.56,174.12 L263.81,174.15 L264.05,174.18 L264.30,174.21 L264.54,174.24 L264.78,174.27 L265.03,174.30 L265.27,174.33 L265.52,174.36 L265.76,174.39 L266.01,174.42 L266.25,174.45 L266.50,174.48 L266.74,174.50 L266.98,174.53 L267.23,174.56 L267.47,174.58 L267.72,174.61 L267.96,174.63 L268.21,174.66 L268.45,174.68 L268.70,174.71 L268.94,174.73 L269.19,174.75 L269.43,174.78 L269.67,174.80 L269.92,174.82 L270.16,174.84 L270.41,174.86 L270.65,174.88 L270.90,174.91 L271.14,174.93 L271.39,174.95 L271.63,174.97 L271.87,174.98 L272.12,175.00 L272.36,175.02 L272.61,175.04 L272.85,175.06 L273.10,175.08 L273.34,175.09 L273.59,175.11 L273.83,175.13 L274.08,175.14 L274.32,175.16 L274.56,175.17 L274.81,175.19 L275.05,175.20 L275.30,175.22 L275.54,175.23 L275.79,175.25 L276.03,175.26 L276.28,175.28 L276.52,175.29 L276.76,175.30 L277.01,175.32 L277.25,175.33 L277.50,175.35 L277.74,175.36 L277.99,175.37 L278.23,175.39 L278.48,175.40 L278.72,175.41 L278.97,175.42 L279.21,175.44 L279.45,175.45 L279.70,175.46 L279.94,175.47 L280.19,175.49 L280.43,175.50 L280.68,175.51 L280.92,175.52 L281.17,175.53 L281.41,175.54 L281.65,175.55 L281.90,175.56 L282.14,175.57 L282.39,175.58 L282.63,175.59 L282.88,175.60 L283.12,175.61 L283.37,175.62 L283.61,175.63 L283.86,175.64 L284.10,175.64 L284.34,175.65 L284.59,175.66 L284.83,175.66 L285.08,175.67 L285.32,175.68 L285.57,175.68 L285.81,175.69 L286.06,175.69 L286.30,175.70" fill="none" stroke="#0000ff" stroke-width="1.5" stroke-linejoin="round"/>
<path d="M66.50,116.40 L66.74,116.92 L66.99,117.44 L67.23,117.94 L67.48,118.44 L67.72,118.92 L67.97,119.39 L68.21,119.85 L68.46,120.30 L68.70,120.74 L68.94,121.16 L69.19,121.57 L69.43,121.97 L69.68,122.35 L69.92,122.72 L70.17,123.08 L70.41,123.42 L70.66,123.74 L70.90,124.05 L71.15,124.35 L71.39,124.63 L71.63,124.90 L71.88,125.16 L72.12,125.41 L72.37,125.66 L72.61,125.89 L72.86,126.13 L73.10,126.36 L73.35,126.59 L73.59,126.82 L73.83,127.05 L74.08,127.28 L74.32,127.51 L74.57,127.74 L74.81,127.97 L75.06,128.20 L75.30,128.42 L75.55,128.64 L75.79,128.86 L76.04,129.07 L76.28,129.29 L76.52,129.51 L76.77,129.73 L77.01,129.95 L77.26,130.17 L77.50,130.39 L77.75,130.62 L77.99,130.85 L78.24,131.08 L78.48,131.31 L78.72,131.54 L78.97,131.77 L79.21,132.00 L79.46,132.22 L79.70,132.44 L79.95,132.65 L80.19,132.86 L80.44,133.07 L80.68,133.28 L80.93,133.48 L81.17,133.68 L81.41,133.89 L81.66,134.08 L81.90,134.28 L82.15,134.48 L82.39,134.67 L82.64,134.86 L82.88,135.05 L83.13,135.24 L83.37,135.43 L83.61,135.61 L83.86,135.79 L84.10,135.98 L84.35,136.16 L84.59,136.34 L84.84,136.53 L85.08,136.71 L85.33,136.89 L85.57,137.06 L85.82,137.23 L86.06,137.40 L86.30,137.56 L86.55,137.71 L86.79,137.85 L87.04,138.00 L87.28,138.14 L87.53,138.27 L87.77,138.41 L88.02,138.55 L88.26,138.68 L88.50,138.81 L88.75,138.94 L88.99,139.07 L89.24,139.20 L89.48,139.32 L89.73,139.44 L89.97,139.56 L90.22,139.68 L90.46,139.80 L90.70,139.91 L90.95,140.02 L91.19,140.13 L91.44,140.24 L91.68,140.34 L91.93,140.44 L92.17,140.54 L92.42,140.64 L92.66,140.73 L92.91,140.82 L93.15,140.91 L93.39,141.00 L93.64,141.08 L93.88,141.16 L94.13,141.24 L94.37,141.32 L94.62,141.40 L94.86,141.47 L95.11,141.54 L95.35,141.61 L95.59,141.68 L95.84,141.75 L96.08,141.82 L96.33,141.88 L96.57,141.95 L96.82,142.01 L97.06,142.08 L97.31,142.14 L97.55,142.20 L97.80,142.26 L98.04,142.32 L98.28,142.38 L98.53,142.43 L98.77,142.49 L99.02,142.55 L99.26,142.61 L99.51,142.66 L99.75,142.72 L100.00,142.78 L100.24,142.83 L100.48,142.89 L100.73,142.95 L100.97,143.01 L101.22,143.08 L101.46,143.14 L101.71,143.21 L101.95,143.27 L102.20,143.33 L102.44,143.39 L102.69,143.45 L102.93,143.50 L103.17,143.56 L103.42,143.61 L103.66,143.65 L103.91,143.69 L104.15,143.73 L104.40,143.75 L104.64,143.78 L104.89,143.79 L105.13,143.81 L105.37,143.81 L105.62,143.82 L105.86,143.83 L106.11,143.84 L106.35,143.85 L106.60,143.86 L106.84,143.86 L107.09,143.87 L107.33,143.87 L107.57,143.88 L107.82,143.88 L108.06,143.89 L108.31,143.89 L108.55,143.89 L108.80,143.90 L109.04,143.90 L109.29,143.90 L109.53,143.90 L109.78,143.90 L110.02,143.89 L110.26,143.87 L110.51,143.85 L110.75,143.82 L111.00,143.79 L111.24,143.76 L111.49,143.72 L111.73,143.68 L111.98,143.63 L112.22,143.58 L112.46,143.53 L112.71,143.48 L112.95,143.42 L113.20,143.36 L113.44,143.30 L113.69,143.24 L113.93,143.18 L114.18,143.11 L114.42,143.05 L114.67,142.99 L114.91,142.92 L115.15,142.86 L115.40,142.79 L115.64,142.72 L115.89,142.64 L116.13,142.56 L116.38,142.47 L116.62,142.38 L116.87,142.29 L117.11,142.19 L117.35,142.09 L117.60,141.98 L117.84,141.87 L118.09,141.76 L118.33,141.65 L118.58,141.53 L118.82,141.40 L119.07,141.28 L119.31,141.15 L119.56,141.02 L119.80,140.89 L120.04,140.75 L120.29,140.62 L120.53,140.48 L120.78,140.34 L121.02,140.19 L121.27,140.05 L121.51,139.90 L121.76,139.75 L122.00,139.60 L122.24,139.44 L122.49,139.28 L122.73,139.10 L122.98,138.92 L123.22,138.73 L123.47,138.53 L123.71,138.33 L123.96,138.12 L124.20,137.90 L124.45,137.68 L124.69,137.45 L124.93,137.22 L125.18,136.99 L125.42,136.75 L125.67,136.50 L125.91,136.26 L126.16,136.02 L126.40,135.77 L126.65,135.52 L126.89,135.27 L127.13,135.02 L127.38,134.78 L127.62,134.53 L127.87,134.29 L128.11,134.04 L128.36,133.80 L128.60,133.57 L128.85,133.33 L129.09,133.11 L129.33,132.88 L129.58,132.66 L129.82,132.45 L130.07,132.24 L130.31,132.03 L130.56,131.82 L130.80,131.60 L131.05,131.39 L131.29,131.17 L131.54,130.95 L131.78,130.72 L132.02,130.50 L132.27,130.28 L132.51,130.07 L132.76,129.85 L133.00,129.64 L133.25,129.43 L133.49,129.23 L133.74,129.03 L133.98,128.84 L134.22,128.66 L134.47,128.48 L134.71,128.31 L134.96,128.16 L135.20,128.01 L135.45,127.87 L135.69,127.74 L135.94,127.63 L136.18,127.52 L136.43,127.42 L136.67,127.31 L136.91,127.20 L137.16,127.10 L137.40,127.00 L137.65,126.90 L137.89,126.80 L138.14,126.71 L138.38,126.62 L138.63,126.54 L138.87,126.47 L139.11,126.40 L139.36,126.35 L139.60,126.30 L139.85,126.26 L140.09,126.23 L140.34,126.21 L140.58,126.20 L140.83,126.21 L141.07,126.23 L141.32,126.27 L141.56,126.32 L141.80,126.38 L142.05,126.45 L142.29,126.53 L142.54,126.63 L142.78,126.73 L143.03,126.83 L143.27,126.94 L143.52,127.06 L143.76,127.18 L144.00,127.30 L144.25,127.44 L144.49,127.61 L144.74,127.81 L144.98,128.03 L145.23,128.27 L145.47,128.53 L145.72,128.81 L145.96,129.11 L146.21,129.42 L146.45,129.73 L146.69,130.06 L146.94,130.39 L147.18,130.76 L147.43,131.16 L147.67,131.59 L147.92,132.05 L148.16,132.53 L148.41,133.03 L148.65,133.55 L148.89,134.08 L149.14,134.63 L149.38,135.18 L149.63,135.74 L149.87,136.31 L150.12,136.87 L150.36,137.43 L150.61,137.99 L150.85,138.53 L151.09,139.06 L151.34,139.58 L151.58,140.10 L151.83,140.63 L152.07,141.16 L152.32,141.69 L152.56,142.23 L152.81,142.77 L153.05,143.30 L153.30,143.83 L153.54,144.36 L153.78,144.87 L154.03,145.38 L154.27,145.87 L154.52,146.34 L154.76,146.81 L155.01,147.28 L155.25,147.74 L155.50,148.21 L155.74,148.67 L155.98,149.13 L156.23,149.58 L156.47,150.01 L156.72,150.44 L156.96,150.84 L157.21,151.22 L157.45,151.58 L157.70,151.92 L157.94,152.23 L158.19,152.52 L158.43,152.80 L158.67,153.07 L158.92,153.33 L159.16,153.59 L159.41,153.83 L159.65,154.06 L159.90,154.27 L160.14,154.47 L160.39,154.64 L160.63,154.80 L160.87,154.94 L161.12,155.05 L161.36,155.17 L161.61,155.28 L161.85,155.38 L162.10,155.49 L162.34,155.59 L162.59,155.68 L162.83,155.77 L163.08,155.86 L163.32,155.93 L163.56,156.00 L163.81,156.06 L164.05,156.11 L164.30,156.15 L164.54,156.18 L164.79,156.20 L165.03,156.20 L165.28,156.16 L165.52,156.05 L165.76,155.89 L166.01,155.68 L166.25,155.42 L166.50,155.12 L166.74,154.78 L166.99,154.41 L167.23,154.02 L167.48,153.61 L167.72,153.19 L167.96,152.76 L168.21,152.32 L168.45,151.89 L168.70,151.46 L168.94,151.05 L169.19,150.66 L169.43,150.30 L169.68,149.95 L169.92,149.60 L170.17,149.25 L170.41,148.89 L170.65,148.53 L170.90,148.16 L171.14,147.80 L171.39,147.43 L171.63,147.06 L171.88,146.69 L172.12,146.32 L172.37,145.95 L172.61,145.58 L172.85,145.21 L173.10,144.84 L173.34,144.47 L173.59,144.11 L173.83,143.75 L174.08,143.39 L174.32,143.04 L174.57,142.69 L174.81,142.35 L175.06,142.02 L175.30,141.69 L175.54,141.36 L175.79,141.03 L176.03,140.70 L176.28,140.36 L176.52,140.03 L176.77,139.69 L177.01,139.34 L177.26,138.98 L177.50,138.62 L177.74,138.24 L177.99,137.85 L178.23,137.45 L178.48,137.04 L178.72,136.60 L178.97,136.13 L179.21,135.63 L179.46,135.11 L179.70,134.57 L179.95,134.02 L180.19,133.46 L180.43,132.90 L180.68,132.35 L180.92,131.80 L181.17,131.27 L181.41,130.76 L181.66,130.27 L181.90,129.81 L182.15,129.37 L182.39,128.95 L182.63,128.54 L182.88,128.14 L183.12,127.74 L183.37,127.35 L183.61,126.96 L183.86,126.57 L184.10,126.18 L184.35,125.77 L184.59,125.36 L184.84,124.94 L185.08,124.48 L185.32,124.00 L185.57,123.49 L185.81,122.97 L186.06,122.45 L186.30,121.95 L186.55,121.46 L186.79,121.02 L187.04,120.61 L187.28,120.26 L187.52,119.97 L187.77,119.72 L188.01,119.46 L188.26,119.21 L188.50,118.99 L188.75,118.79 L188.99,118.64 L189.24,118.54 L189.48,118.50 L189.72,118.53 L189.97,118.61 L190.21,118.75 L190.46,118.93 L190.70,119.14 L190.95,119.39 L191.19,119.65 L191.44,119.93 L191.68,120.24 L191.93,120.67 L192.17,121.19 L192.41,121.80 L192.66,122.46 L192.90,123.18 L193.15,123.92 L193.39,124.67 L193.64,125.43 L193.88,126.28 L194.13,127.20 L194.37,128.18 L194.61,129.21 L194.86,130.27 L195.10,131.35 L195.35,132.43 L195.59,133.50 L195.84,134.54 L196.08,135.54 L196.33,136.49 L196.57,137.44 L196.82,138.40 L197.06,139.36 L197.30,140.32 L197.55,141.27 L197.79,142.20 L198.04,143.12 L198.28,144.02 L198.53,144.89 L198.77,145.73 L199.02,146.54 L199.26,147.30 L199.50,148.01 L199.75,148.70 L199.99,149.38 L200.24,150.05 L200.48,150.70 L200.73,151.33 L200.97,151.94 L201.22,152.52 L201.46,153.08 L201.71,153.59 L201.95,154.07 L202.19,154.51 L202.44,154.91 L202.68,155.27 L202.93,155.62 L203.17,155.96 L203.42,156.29 L203.66,156.61 L203.91,156.91 L204.15,157.20 L204.39,157.47 L204.64,157.72 L204.88,157.95 L205.13,158.16 L205.37,158.35 L205.62,158.51 L205.86,158.64 L206.11,158.74 L206.35,158.84 L206.59,158.94 L206.84,159.03 L207.08,159.12 L207.33,159.20 L207.57,159.28 L207.82,159.35 L208.06,159.41 L208.31,159.47 L208.55,159.51 L208.80,159.55 L209.04,159.58 L209.28,159.60 L209.53,159.60 L209.77,159.59 L210.02,159.56 L210.26,159.52 L210.51,159.46 L210.75,159.40 L211.00,159.32 L211.24,159.24 L211.48,159.14 L211.73,159.04 L211.97,158.94 L212.22,158.84 L212.46,158.73 L212.71,158.62 L212.95,158.52 L213.20,158.42 L213.44,158.30 L213.69,158.18 L213.93,158.04 L214.17,157.90 L214.42,157.75 L214.66,157.60 L214.91,157.44 L215.15,157.28 L215.40,157.11 L215.64,156.94 L215.89,156.77 L216.13,156.60 L216.37,156.43 L216.62,156.26 L216.86,156.09 L217.11,155.93 L217.35,155.75 L217.60,155.57 L217.84,155.38 L218.09,155.18 L218.33,154.99 L218.58,154.79 L218.82,154.60 L219.06,154.41 L219.31,154.24 L219.55,154.07 L219.80,153.92 L220.04,153.78 L220.29,153.64 L220.53,153.50 L220.78,153.36 L221.02,153.21 L221.26,153.07 L221.51,152.94 L221.75,152.81 L222.00,152.69 L222.24,152.58 L222.49,152.49 L222.73,152.41 L222.98,152.35 L223.22,152.32 L223.47,152.30 L223.71,152.31 L223.95,152.34 L224.20,152.38 L224.44,152.44 L224.69,152.52 L224.93,152.61 L225.18,152.72 L225.42,152.83 L225.67,152.95 L225.91,153.08 L226.15,153.22 L226.40,153.35 L226.64,153.49 L226.89,153.64 L227.13,153.78 L227.38,153.95 L227.62,154.14 L227.87,154.36 L228.11,154.60 L228.35,154.85 L228.60,155.12 L228.84,155.40 L229.09,155.69 L229.33,155.99 L229.58,156.29 L229.82,156.59 L230.07,156.89 L230.31,157.19 L230.56,157.48 L230.80,157.76 L231.04,158.03 L231.29,158.29 L231.53,158.53 L231.78,158.77 L232.02,159.00 L232.27,159.23 L232.51,159.46 L232.76,159.68 L233.00,159.91 L233.24,160.13 L233.49,160.35 L233.73,160.57 L233.98,160.79 L234.22,161.00 L234.47,161.22 L234.71,161.44 L234.96,161.65 L235.20,161.87 L235.45,162.09 L235.69,162.31 L235.93,162.53 L236.18,162.76 L236.42,162.99 L236.67,163.22 L236.91,163.45 L237.16,163.69 L237.40,163.92 L237.65,164.16 L237.89,164.39 L238.13,164.62 L238.38,164.85 L238.62,165.08 L238.87,165.29 L239.11,165.50 L239.36,165.71 L239.60,165.90 L239.85,166.09 L240.09,166.26 L240.34,166.44 L240.58,166.60 L240.82,166.77 L241.07,166.93 L241.31,167.08 L241.56,167.24 L241.80,167.39 L242.05,167.54 L242.29,167.68 L242.54,167.82 L242.78,167.96 L243.02,168.10 L243.27,168.23 L243.51,168.36 L243.76,168.49 L244.00,168.61 L244.25,168.74 L244.49,168.86 L244.74,168.98 L244.98,169.09 L245.23,169.20 L245.47,169.32 L245.71,169.43 L245.96,169.54 L246.20,169.65 L246.45,169.76 L246.69,169.86 L246.94,169.97 L247.18,170.07 L247.43,170.17 L247.67,170.28 L247.91,170.37 L248.16,170.47 L248.40,170.57 L248.65,170.66 L248.89,170.76 L249.14,170.85 L249.38,170.94 L249.63,171.03 L249.87,171.12 L250.11,171.20 L250.36,171.28 L250.60,171.37 L250.85,171.45 L251.09,171.53 L251.34,171.60 L251.58,171.68 L251.83,171.75 L252.07,171.82 L252.32,171.89 L252.56,171.96 L252.80,172.03 L253.05,172.10 L253.29,172.17 L253.54,172.23 L253.78,172.30 L254.03,172.37 L254.27,172.43 L254.52,172.50 L254.76,172.56 L255.00,172.63 L255.25,172.69 L255.49,172.75 L255.74,172.81 L255.98,172.88 L256.23,172.94 L256.47,173.00 L256.72,173.05 L256.96,173.11 L257.21,173.17 L257.45,173.23 L257.69,173.28 L257.94,173.34 L258.18,173.39 L258.43,173.44 L258.67,173.49 L258.92,173.54 L259.16,173.59 L259.41,173.64 L259.65,173.69 L259.89,173.74 L260.14,173.78 L260.38,173.83 L260.63,173.87 L260.87,173.92 L261.12,173.96 L261.36,174.00 L261.61,174.04 L261.85,174.08 L262.10,174.11 L262.34,174.15 L262.58,174.18 L262.83,174.22 L263.07,174.25 L263.32,174.28 L263.56,174.32 L263.81,174.35 L264.05,174.38 L264.30,174.41 L264.54,174.44 L264.78,174.47 L265.03,174.50 L265.27,174.53 L265.52,174.56 L265.76,174.59 L266.01,174.62 L266.25,174.64 L266.50,174.67 L266.74,174.70 L266.98,174.73 L267.23,174.75 L267.47,174.78 L267.72,174.80 L267.96,174.83 L268.21,174.85 L268.45,174.88 L268.70,174.90 L268.94,174.93 L269.19,174.95 L269.43,174.97 L269.67,175.00 L269.92,175.02 L270.16,175.04 L270.41,175.06 L270.65,175.08 L270.90,175.10 L271.14,175.12 L271.39,175.14 L271.63,175.16 L271.87,175.18 L272.12,175.20 L272.36,175.22 L272.61,175.24 L272.85,175.26 L273.10,175.28 L273.34,175.29 L273.59,175.31 L273.83,175.33 L274.08,175.34 L274.32,175.36 L274.56,175.37 L274.81,175.39 L275.05,175.40 L275.30,175.42 L275.54,175.43 L275.79,175.45 L276.03,175.46 L276.28,175.48 L276.52,175.49 L276.76,175.50 L277.01,175.52 L277.25,175.53 L277.50,175.55 L277.74,175.56 L277.99,175.57 L278.23,175.59 L278.48,175.60 L278.72,175.61 L278.97,175.62 L279.21,175.64 L279.45,175.65 L279.70,175.66 L279.94,175.67 L280.19,175.69 L280.43,175.70 L280.68,175.71 L280.92,175.72 L281.17,175.73 L281.41,175.74 L281.65,175.75 L281.90,175.76 L282.14,175.77 L282.39,175.78 L282.63,175.79 L282.88,175.80 L283.12,175.81 L283.37,175.82 L283.61,175.83 L283.86,175.84 L284.10,175.84 L284.34,175.85 L284.59,175.86 L284.83,175.86 L285.08,175.87 L285.32,175.88 L285.57,175.88 L285.81,175.89 L286.06,175.89 L286.30,175.90" fill="none" stroke="#008080" stroke-width="1.5" stroke-linejoin="round"/>
<path d="M66.50,122.20 L66.74,122.56 L66.99,122.92 L67.23,123.28 L67.48,123.62 L67.72,123.96 L67.97,124.29 L68.21,124.62 L68.46,124.94 L68.70,125.25 L68.94,125.55 L69.19,125.85 L69.43,126.14 L69.68,126.42 L69.92,126.69 L70.17,126.95 L70.41,127.21 L70.66,127.46 L70.90,127.70 L71.15,127.92 L71.39,128.14 L71.63,128.36 L71.88,128.56 L72.12,128.76 L72.37,128.96 L72.61,129.15 L72.86,129.34 L73.10,129.53 L73.35,129.72 L73.59,129.90 L73.83,130.09 L74.08,130.28 L74.32,130.48 L74.57,130.67 L74.81,130.85 L75.06,131.04 L75.30,131.22 L75.55,131.41 L75.79,131.59 L76.04,131.77 L76.28,131.96 L76.52,132.14 L76.77,132.32 L77.01,132.51 L77.26,132.69 L77.50,132.88 L77.75,133.07 L77.99,133.25 L78.24,133.44 L78.48,133.63 L78.72,133.82 L78.97,134.02 L79.21,134.21 L79.46,134.40 L79.70,134.59 L79.95,134.78 L80.19,134.97 L80.44,135.16 L80.68,135.35 L80.93,135.53 L81.17,135.72 L81.41,135.90 L81.66,136.08 L81.90,136.26 L82.15,136.43 L82.39,136.61 L82.64,136.79 L82.88,136.96 L83.13,137.14 L83.37,137.32 L83.61,137.50 L83.86,137.67 L84.10,137.85 L84.35,138.02 L84.59,138.19 L84.84,138.36 L85.08,138.52 L85.33,138.68 L85.57,138.84 L85.82,138.99 L86.06,139.14 L86.30,139.28 L86.55,139.42 L86.79,139.55 L87.04,139.68 L87.28,139.81 L87.53,139.93 L87.77,140.05 L88.02,140.18 L88.26,140.30 L88.50,140.41 L88.75,140.53 L88.99,140.65 L89.24,140.76 L89.48,140.87 L89.73,140.98 L89.97,141.09 L90.22,141.19 L90.46,141.29 L90.70,141.40 L90.95,141.50 L91.19,141.60 L91.44,141.69 L91.68,141.79 L91.93,141.88 L92.17,141.97 L92.42,142.06 L92.66,142.15 L92.91,142.23 L93.15,142.32 L93.39,142.40 L93.64,142.48 L93.88,142.56 L94.13,142.64 L94.37,142.71 L94.62,142.79 L94.86,142.86 L95.11,142.93 L95.35,143.01 L95.59,143.08 L95.84,143.15 L96.08,143.22 L96.33,143.28 L96.57,143.35 L96.82,143.41 L97.06,143.48 L97.31,143.54 L97.55,143.60 L97.80,143.67 L98.04,143.73 L98.28,143.79 L98.53,143.84 L98.77,143.90 L99.02,143.96 L99.26,144.01 L99.51,144.07 L99.75,144.12 L100.00,144.18 L100.24,144.23 L100.48,144.29 L100.73,144.34 L100.97,144.40 L101.22,144.46 L101.46,144.52 L101.71,144.58 L101.95,144.64 L102.20,144.70 L102.44,144.76 L102.69,144.81 L102.93,144.86 L103.17,144.91 L103.42,144.95 L103.66,144.99 L103.91,145.03 L104.15,145.05 L104.40,145.08 L104.64,145.09 L104.89,145.10 L105.13,145.10 L105.37,145.10 L105.62,145.10 L105.86,145.10 L106.11,145.10 L106.35,145.10 L106.60,145.10 L106.84,145.10 L107.09,145.10 L107.33,145.10 L107.57,145.10 L107.82,145.10 L108.06,145.10 L108.31,145.10 L108.55,145.10 L108.80,145.10 L109.04,145.10 L109.29,145.10 L109.53,145.10 L109.78,145.09 L110.02,145.08 L110.26,145.05 L110.51,145.01 L110.75,144.97 L111.00,144.91 L111.24,144.85 L111.49,144.79 L111.73,144.71 L111.98,144.64 L112.22,144.55 L112.46,144.47 L112.71,144.38 L112.95,144.28 L113.20,144.19 L113.44,144.09 L113.69,144.00 L113.93,143.90 L114.18,143.81 L114.42,143.71 L114.67,143.62 L114.91,143.53 L115.15,143.45 L115.40,143.36 L115.64,143.27 L115.89,143.18 L116.13,143.09 L116.38,143.00 L116.62,142.90 L116.87,142.81 L117.11,142.71 L117.35,142.61 L117.60,142.51 L117.84,142.41 L118.09,142.30 L118.33,142.19 L118.58,142.09 L118.82,141.98 L119.07,141.86 L119.31,141.75 L119.56,141.63 L119.80,141.51 L120.04,141.39 L120.29,141.26 L120.53,141.13 L120.78,141.00 L121.02,140.87 L121.27,140.73 L121.51,140.59 L121.76,140.45 L122.00,140.30 L122.24,140.15 L122.49,139.98 L122.73,139.81 L122.98,139.63 L123.22,139.44 L123.47,139.25 L123.71,139.05 L123.96,138.84 L124.20,138.62 L124.45,138.40 L124.69,138.17 L124.93,137.94 L125.18,137.71 L125.42,137.47 L125.67,137.23 L125.91,136.98 L126.16,136.74 L126.40,136.49 L126.65,136.24 L126.89,135.99 L127.13,135.74 L127.38,135.50 L127.62,135.25 L127.87,135.00 L128.11,134.76 L128.36,134.52 L128.60,134.28 L128.85,134.04 L129.09,133.81 L129.33,133.59 L129.58,133.37 L129.82,133.15 L130.07,132.94 L130.31,132.73 L130.56,132.52 L130.80,132.30 L131.05,132.08 L131.29,131.86 L131.54,131.64 L131.78,131.42 L132.02,131.20 L132.27,130.98 L132.51,130.76 L132.76,130.54 L133.00,130.33 L133.25,130.12 L133.49,129.91 L133.74,129.71 L133.98,129.52 L134.22,129.33 L134.47,129.15 L134.71,128.97 L134.96,128.81 L135.20,128.65 L135.45,128.50 L135.69,128.36 L135.94,128.23 L136.18,128.11 L136.43,127.99 L136.67,127.86 L136.91,127.74 L137.16,127.62 L137.40,127.50 L137.65,127.38 L137.89,127.27 L138.14,127.16 L138.38,127.06 L138.63,126.98 L138.87,126.90 L139.11,126.83 L139.36,126.78 L139.60,126.73 L139.85,126.71 L140.09,126.70 L140.34,126.71 L140.58,126.73 L140.83,126.76 L141.07,126.81 L141.32,126.86 L141.56,126.93 L141.80,127.00 L142.05,127.09 L142.29,127.18 L142.54,127.29 L142.78,127.39 L143.03,127.51 L143.27,127.62 L143.52,127.75 L143.76,127.87 L144.00,128.00 L144.25,128.15 L144.49,128.33 L144.74,128.54 L144.98,128.77 L145.23,129.03 L145.47,129.32 L145.72,129.63 L145.96,129.95 L146.21,130.29 L146.45,130.65 L146.69,131.02 L146.94,131.40 L147.18,131.81 L147.43,132.28 L147.67,132.81 L147.92,133.39 L148.16,134.02 L148.41,134.68 L148.65,135.38 L148.89,136.09 L149.14,136.83 L149.38,137.58 L149.63,138.33 L149.87,139.07 L150.12,139.81 L150.36,140.53 L150.61,141.22 L150.85,141.89 L151.09,142.51 L151.34,143.09 L151.58,143.65 L151.83,144.21 L152.07,144.76 L152.32,145.30 L152.56,145.84 L152.81,146.37 L153.05,146.89 L153.30,147.41 L153.54,147.92 L153.78,148.41 L154.03,148.90 L154.27,149.37 L154.52,149.84 L154.76,150.29 L155.01,150.73 L155.25,151.15 L155.50,151.57 L155.74,151.96 L155.98,152.36 L156.23,152.76 L156.47,153.17 L156.72,153.56 L156.96,153.96 L157.21,154.34 L157.45,154.70 L157.70,155.05 L157.94,155.37 L158.19,155.67 L158.43,155.94 L158.67,156.18 L158.92,156.38 L159.16,156.54 L159.41,156.68 L159.65,156.82 L159.90,156.96 L160.14,157.08 L160.39,157.21 L160.63,157.32 L160.87,157.43 L161.12,157.54 L161.36,157.63 L161.61,157.72 L161.85,157.81 L162.10,157.89 L162.34,157.96 L162.59,158.02 L162.83,158.07 L163.08,158.12 L163.32,158.16 L163.56,158.20 L163.81,158.22 L164.05,158.25 L164.30,158.27 L164.54,158.29 L164.79,158.31 L165.03,158.33 L165.28,158.35 L165.52,158.36 L165.76,158.38 L166.01,158.39 L166.25,158.40 L166.50,158.41 L166.74,158.43 L166.99,158.44 L167.23,158.45 L167.48,158.46 L167.72,158.47 L167.96,158.48 L168.21,158.49 L168.45,158.51 L168.70,158.52 L168.94,158.53 L169.19,158.55 L169.43,158.56 L169.68,158.58 L169.92,158.59 L170.17,158.61 L170.41,158.63 L170.65,158.66 L170.90,158.68 L171.14,158.71 L171.39,158.74 L171.63,158.77 L171.88,158.80 L172.12,158.83 L172.37,158.86 L172.61,158.89 L172.85,158.93 L173.10,158.96 L173.34,158.99 L173.59,159.02 L173.83,159.05 L174.08,159.08 L174.32,159.11 L174.57,159.14 L174.81,159.17 L175.06,159.19 L175.30,159.21 L175.54,159.23 L175.79,159.25 L176.03,159.27 L176.28,159.28 L176.52,159.29 L176.77,159.30 L177.01,159.30 L177.26,159.30 L177.50,159.29 L177.74,159.27 L177.99,159.24 L178.23,159.21 L178.48,159.17 L178.72,159.12 L178.97,159.07 L179.21,159.02 L179.46,158.95 L179.70,158.89 L179.95,158.82 L180.19,158.73 L180.43,158.59 L180.68,158.40 L180.92,158.18 L181.17,157.93 L181.41,157.65 L181.66,157.37 L181.90,157.08 L182.15,156.79 L182.39,156.52 L182.63,156.26 L182.88,156.00 L183.12,155.74 L183.37,155.48 L183.61,155.22 L183.86,154.94 L184.10,154.66 L184.35,154.36 L184.59,154.05 L184.84,153.73 L185.08,153.39 L185.32,153.00 L185.57,152.58 L185.81,152.13 L186.06,151.66 L186.30,151.19 L186.55,150.72 L186.79,150.27 L187.04,149.86 L187.28,149.48 L187.52,149.10 L187.77,148.71 L188.01,148.32 L188.26,147.94 L188.50,147.59 L188.75,147.27 L188.99,146.99 L189.24,146.77 L189.48,146.61 L189.72,146.49 L189.97,146.38 L190.21,146.28 L190.46,146.19 L190.70,146.12 L190.95,146.06 L191.19,146.02 L191.44,146.00 L191.68,146.02 L191.93,146.12 L192.17,146.28 L192.41,146.49 L192.66,146.74 L192.90,147.02 L193.15,147.31 L193.39,147.62 L193.64,148.04 L193.88,148.55 L194.13,149.13 L194.37,149.73 L194.61,150.34 L194.86,150.95 L195.10,151.60 L195.35,152.28 L195.59,152.98 L195.84,153.68 L196.08,154.38 L196.33,155.07 L196.57,155.80 L196.82,156.58 L197.06,157.36 L197.30,158.10 L197.55,158.76 L197.79,159.31 L198.04,159.72 L198.28,160.10 L198.53,160.46 L198.77,160.80 L199.02,161.13 L199.26,161.43 L199.50,161.71 L199.75,161.98 L199.99,162.22 L200.24,162.43 L200.48,162.63 L200.73,162.80 L200.97,162.94 L201.22,163.06 L201.46,163.16 L201.71,163.26 L201.95,163.35 L202.19,163.44 L202.44,163.52 L202.68,163.60 L202.93,163.66 L203.17,163.71 L203.42,163.76 L203.66,163.78 L203.91,163.80 L204.15,163.80 L204.39,163.79 L204.64,163.77 L204.88,163.74 L205.13,163.70 L205.37,163.66 L205.62,163.62 L205.86,163.57 L206.11,163.51 L206.35,163.45 L206.59,163.40 L206.84,163.34 L207.08,163.28 L207.33,163.21 L207.57,163.14 L207.82,163.05 L208.06,162.96 L208.31,162.87 L208.55,162.76 L208.80,162.65 L209.04,162.54 L209.28,162.42 L209.53,162.30 L209.77,162.17 L210.02,162.05 L210.26,161.92 L210.51,161.80 L210.75,161.67 L211.00,161.55 L211.24,161.42 L211.48,161.29 L211.73,161.15 L211.97,161.01 L212.22,160.87 L212.46,160.73 L212.71,160.58 L212.95,160.43 L213.20,160.27 L213.44,160.11 L213.69,159.95 L213.93,159.78 L214.17,159.61 L214.42,159.44 L214.66,159.26 L214.91,159.07 L215.15,158.88 L215.40,158.67 L215.64,158.44 L215.89,158.20 L216.13,157.95 L216.37,157.69 L216.62,157.43 L216.86,157.16 L217.11,156.89 L217.35,156.61 L217.60,156.35 L217.84,156.09 L218.09,155.83 L218.33,155.59 L218.58,155.36 L218.82,155.15 L219.06,154.95 L219.31,154.75 L219.55,154.54 L219.80,154.33 L220.04,154.12 L220.29,153.91 L220.53,153.70 L220.78,153.50 L221.02,153.30 L221.26,153.11 L221.51,152.94 L221.75,152.78 L222.00,152.64 L222.24,152.52 L222.49,152.43 L222.73,152.36 L222.98,152.31 L223.22,152.30 L223.47,152.32 L223.71,152.38 L223.95,152.47 L224.20,152.59 L224.44,152.73 L224.69,152.90 L224.93,153.08 L225.18,153.28 L225.42,153.50 L225.67,153.73 L225.91,153.96 L226.15,154.20 L226.40,154.43 L226.64,154.67 L226.89,154.90 L227.13,155.12 L227.38,155.37 L227.62,155.64 L227.87,155.93 L228.11,156.24 L228.35,156.57 L228.60,156.90 L228.84,157.24 L229.09,157.59 L229.33,157.94 L229.58,158.29 L229.82,158.64 L230.07,158.98 L230.31,159.31 L230.56,159.63 L230.80,159.93 L231.04,160.22 L231.29,160.49 L231.53,160.73 L231.78,160.97 L232.02,161.20 L232.27,161.42 L232.51,161.63 L232.76,161.84 L233.00,162.04 L233.24,162.24 L233.49,162.44 L233.73,162.63 L233.98,162.82 L234.22,163.00 L234.47,163.19 L234.71,163.38 L234.96,163.56 L235.20,163.75 L235.45,163.94 L235.69,164.13 L235.93,164.33 L236.18,164.53 L236.42,164.73 L236.67,164.93 L236.91,165.13 L237.16,165.34 L237.40,165.54 L237.65,165.75 L237.89,165.95 L238.13,166.15 L238.38,166.34 L238.62,166.53 L238.87,166.72 L239.11,166.90 L239.36,167.08 L239.60,167.24 L239.85,167.40 L240.09,167.56 L240.34,167.70 L240.58,167.85 L240.82,167.99 L241.07,168.13 L241.31,168.26 L241.56,168.40 L241.80,168.53 L242.05,168.65 L242.29,168.78 L242.54,168.90 L242.78,169.02 L243.02,169.14 L243.27,169.25 L243.51,169.36 L243.76,169.47 L244.00,169.58 L244.25,169.69 L244.49,169.79 L244.74,169.89 L244.98,169.99 L245.23,170.09 L245.47,170.19 L245.71,170.28 L245.96,170.38 L246.20,170.48 L246.45,170.57 L246.69,170.66 L246.94,170.76 L247.18,170.85 L247.43,170.94 L247.67,171.03 L247.91,171.11 L248.16,171.20 L248.40,171.28 L248.65,171.37 L248.89,171.45 L249.14,171.53 L249.38,171.60 L249.63,171.68 L249.87,171.75 L250.11,171.83 L250.36,171.90 L250.60,171.96 L250.85,172.03 L251.09,172.09 L251.34,172.15 L251.58,172.21 L251.83,172.26 L252.07,172.31 L252.32,172.37 L252.56,172.42 L252.80,172.47 L253.05,172.52 L253.29,172.57 L253.54,172.62 L253.78,172.67 L254.03,172.71 L254.27,172.76 L254.52,172.81 L254.76,172.86 L255.00,172.90 L255.25,172.95 L255.49,172.99 L255.74,173.04 L255.98,173.08 L256.23,173.12 L256.47,173.17 L256.72,173.21 L256.96,173.25 L257.21,173.29 L257.45,173.33 L257.69,173.36 L257.94,173.40 L258.18,173.44 L258.43,173.47 L258.67,173.51 L258.92,173.54 L259.16,173.57 L259.41,173.60 L259.65,173.63 L259.89,173.66 L260.14,173.69 L260.38,173.71 L260.63,173.74 L260.87,173.76 L261.12,173.79 L261.36,173.81 L261.61,173.83 L261.85,173.85 L262.10,173.86 L262.34,173.88 L262.58,173.89 L262.83,173.91 L263.07,173.92 L263.32,173.93 L263.56,173.95 L263.81,173.96 L264.05,173.97 L264.30,173.98 L264.54,173.99 L264.78,174.00 L265.03,174.02 L265.27,174.03 L265.52,174.04 L265.76,174.05 L266.01,174.06 L266.25,174.07 L266.50,174.08 L266.74,174.09 L266.98,174.10 L267.23,174.11 L267.47,174.12 L267.72,174.12 L267.96,174.13 L268.21,174.14 L268.45,174.15 L268.70,174.16 L268.94,174.17 L269.19,174.17 L269.43,174.18 L269.67,174.19 L269.92,174.19 L270.16,174.20 L270.41,174.21 L270.65,174.21 L270.90,174.22 L271.14,174.23 L271.39,174.23 L271.63,174.24 L271.87,174.24 L272.12,174.25 L272.36,174.25 L272.61,174.26 L272.85,174.26 L273.10,174.27 L273.34,174.27 L273.59,174.28 L273.83,174.28 L274.08,174.29 L274.32,174.29 L274.56,174.29 L274.81,174.30 L275.05,174.30 L275.30,174.30 L275.54,174.31 L275.79,174.31 L276.03,174.31 L276.28,174.32 L276.52,174.32 L276.76,174.32 L277.01,174.33 L277.25,174.33 L277.50,174.33 L277.74,174.34 L277.99,174.34 L278.23,174.34 L278.48,174.35 L278.72,174.35 L278.97,174.35 L279.21,174.35 L279.45,174.36 L279.70,174.36 L279.94,174.36 L280.19,174.36 L280.43,174.37 L280.68,174.37 L280.92,174.37 L281.17,174.37 L281.41,174.38 L281.65,174.38 L281.90,174.38 L282.14,174.38 L282.39,174.38 L282.63,174.39 L282.88,174.39 L283.12,174.39 L283.37,174.39 L283.61,174.39 L283.86,174.39 L284.10,174.39 L284.34,174.40 L284.59,174.40 L284.83,174.40 L285.08,174.40 L285.32,174.40 L285.57,174.40 L285.81,174.40 L286.06,174.40 L286.30,174.40" fill="none" stroke="#ff00ff" stroke-width="1.5" stroke-linejoin="round"/>
<path d="M66.50,122.60 L66.74,122.98 L66.99,123.36 L67.23,123.73 L67.48,124.09 L67.72,124.45 L67.97,124.80 L68.21,125.15 L68.46,125.49 L68.70,125.82 L68.94,126.15 L69.19,126.47 L69.43,126.78 L69.68,127.09 L69.92,127.39 L70.17,127.68 L70.41,127.97 L70.66,128.25 L70.90,128.52 L71.15,128.79 L71.39,129.05 L71.63,129.30 L71.88,129.54 L72.12,129.78 L72.37,130.02 L72.61,130.25 L72.86,130.48 L73.10,130.70 L73.35,130.92 L73.59,131.14 L73.83,131.36 L74.08,131.57 L74.32,131.78 L74.57,131.98 L74.81,132.18 L75.06,132.38 L75.30,132.57 L75.55,132.76 L75.79,132.95 L76.04,133.14 L76.28,133.33 L76.52,133.51 L76.77,133.70 L77.01,133.89 L77.26,134.09 L77.50,134.28 L77.75,134.48 L77.99,134.68 L78.24,134.88 L78.48,135.09 L78.72,135.29 L78.97,135.49 L79.21,135.69 L79.46,135.88 L79.70,136.07 L79.95,136.26 L80.19,136.44 L80.44,136.62 L80.68,136.80 L80.93,136.98 L81.17,137.16 L81.41,137.34 L81.66,137.51 L81.90,137.68 L82.15,137.86 L82.39,138.03 L82.64,138.20 L82.88,138.37 L83.13,138.54 L83.37,138.70 L83.61,138.87 L83.86,139.03 L84.10,139.19 L84.35,139.35 L84.59,139.51 L84.84,139.67 L85.08,139.82 L85.33,139.97 L85.57,140.13 L85.82,140.28 L86.06,140.42 L86.30,140.57 L86.55,140.71 L86.79,140.85 L87.04,140.99 L87.28,141.13 L87.53,141.27 L87.77,141.41 L88.02,141.54 L88.26,141.68 L88.50,141.81 L88.75,141.94 L88.99,142.07 L89.24,142.20 L89.48,142.33 L89.73,142.46 L89.97,142.58 L90.22,142.71 L90.46,142.83 L90.70,142.95 L90.95,143.07 L91.19,143.19 L91.44,143.31 L91.68,143.43 L91.93,143.54 L92.17,143.65 L92.42,143.76 L92.66,143.88 L92.91,143.98 L93.15,144.09 L93.39,144.20 L93.64,144.30 L93.88,144.41 L94.13,144.51 L94.37,144.61 L94.62,144.71 L94.86,144.81 L95.11,144.91 L95.35,145.00 L95.59,145.10 L95.84,145.20 L96.08,145.29 L96.33,145.38 L96.57,145.47 L96.82,145.57 L97.06,145.66 L97.31,145.75 L97.55,145.83 L97.80,145.92 L98.04,146.01 L98.28,146.09 L98.53,146.18 L98.77,146.26 L99.02,146.34 L99.26,146.43 L99.51,146.51 L99.75,146.59 L100.00,146.67 L100.24,146.74 L100.48,146.82 L100.73,146.90 L100.97,146.97 L101.22,147.05 L101.46,147.12 L101.71,147.19 L101.95,147.26 L102.20,147.33 L102.44,147.40 L102.69,147.47 L102.93,147.54 L103.17,147.61 L103.42,147.68 L103.66,147.74 L103.91,147.81 L104.15,147.88 L104.40,147.94 L104.64,148.01 L104.89,148.07 L105.13,148.13 L105.37,148.20 L105.62,148.26 L105.86,148.33 L106.11,148.39 L106.35,148.45 L106.60,148.52 L106.84,148.58 L107.09,148.64 L107.33,148.70 L107.57,148.76 L107.82,148.82 L108.06,148.88 L108.31,148.94 L108.55,148.99 L108.80,149.05 L109.04,149.10 L109.29,149.15 L109.53,149.21 L109.78,149.26 L110.02,149.31 L110.26,149.35 L110.51,149.40 L110.75,149.45 L111.00,149.49 L111.24,149.54 L111.49,149.58 L111.73,149.63 L111.98,149.67 L112.22,149.71 L112.46,149.75 L112.71,149.80 L112.95,149.84 L113.20,149.88 L113.44,149.92 L113.69,149.97 L113.93,150.01 L114.18,150.05 L114.42,150.09 L114.67,150.14 L114.91,150.18 L115.15,150.23 L115.40,150.27 L115.64,150.32 L115.89,150.37 L116.13,150.41 L116.38,150.46 L116.62,150.51 L116.87,150.56 L117.11,150.61 L117.35,150.65 L117.60,150.70 L117.84,150.75 L118.09,150.80 L118.33,150.85 L118.58,150.90 L118.82,150.95 L119.07,150.99 L119.31,151.04 L119.56,151.09 L119.80,151.14 L120.04,151.19 L120.29,151.24 L120.53,151.29 L120.78,151.33 L121.02,151.38 L121.27,151.43 L121.51,151.48 L121.76,151.52 L122.00,151.57 L122.24,151.62 L122.49,151.66 L122.73,151.71 L122.98,151.75 L123.22,151.80 L123.47,151.84 L123.71,151.88 L123.96,151.93 L124.20,151.97 L124.45,152.01 L124.69,152.05 L124.93,152.09 L125.18,152.13 L125.42,152.17 L125.67,152.21 L125.91,152.24 L126.16,152.28 L126.40,152.32 L126.65,152.35 L126.89,152.39 L127.13,152.42 L127.38,152.46 L127.62,152.49 L127.87,152.53 L128.11,152.56 L128.36,152.59 L128.60,152.63 L128.85,152.66 L129.09,152.69 L129.33,152.73 L129.58,152.76 L129.82,152.79 L130.07,152.82 L130.31,152.85 L130.56,152.89 L130.80,152.92 L131.05,152.95 L131.29,152.98 L131.54,153.02 L131.78,153.05 L132.02,153.08 L132.27,153.11 L132.51,153.15 L132.76,153.18 L133.00,153.21 L133.25,153.25 L133.49,153.28 L133.74,153.32 L133.98,153.35 L134.22,153.39 L134.47,153.42 L134.71,153.46 L134.96,153.49 L135.20,153.53 L135.45,153.57 L135.69,153.61 L135.94,153.64 L136.18,153.68 L136.43,153.72 L136.67,153.76 L136.91,153.80 L137.16,153.84 L137.40,153.88 L137.65,153.92 L137.89,153.95 L138.14,153.99 L138.38,154.03 L138.63,154.07 L138.87,154.11 L139.11,154.15 L139.36,154.19 L139.60,154.23 L139.85,154.28 L140.09,154.32 L140.34,154.36 L140.58,154.40 L140.83,154.44 L141.07,154.48 L141.32,154.52 L141.56,154.56 L141.80,154.60 L142.05,154.63 L142.29,154.67 L142.54,154.71 L142.78,154.75 L143.03,154.79 L143.27,154.83 L143.52,154.87 L143.76,154.92 L144.00,154.96 L144.25,155.00 L144.49,155.04 L144.74,155.08 L144.98,155.12 L145.23,155.16 L145.47,155.20 L145.72,155.24 L145.96,155.28 L146.21,155.32 L146.45,155.37 L146.69,155.41 L146.94,155.45 L147.18,155.49 L147.43,155.53 L147.67,155.58 L147.92,155.62 L148.16,155.66 L148.41,155.71 L148.65,155.75 L148.89,155.80 L149.14,155.84 L149.38,155.89 L149.63,155.93 L149.87,155.98 L150.12,156.02 L150.36,156.07 L150.61,156.11 L150.85,156.16 L151.09,156.21 L151.34,156.26 L151.58,156.30 L151.83,156.35 L152.07,156.40 L152.32,156.45 L152.56,156.50 L152.81,156.55 L153.05,156.60 L153.30,156.65 L153.54,156.70 L153.78,156.75 L154.03,156.80 L154.27,156.85 L154.52,156.90 L154.76,156.95 L155.01,157.00 L155.25,157.05 L155.50,157.10 L155.74,157.16 L155.98,157.21 L156.23,157.26 L156.47,157.31 L156.72,157.37 L156.96,157.42 L157.21,157.47 L157.45,157.53 L157.70,157.58 L157.94,157.64 L158.19,157.69 L158.43,157.75 L158.67,157.80 L158.92,157.85 L159.16,157.91 L159.41,157.97 L159.65,158.02 L159.90,158.08 L160.14,158.13 L160.39,158.19 L160.63,158.25 L160.87,158.30 L161.12,158.36 L161.36,158.42 L161.61,158.48 L161.85,158.54 L162.10,158.60 L162.34,158.66 L162.59,158.72 L162.83,158.78 L163.08,158.84 L163.32,158.90 L163.56,158.96 L163.81,159.02 L164.05,159.09 L164.30,159.15 L164.54,159.21 L164.79,159.27 L165.03,159.34 L165.28,159.40 L165.52,159.46 L165.76,159.53 L166.01,159.59 L166.25,159.65 L166.50,159.71 L166.74,159.78 L166.99,159.84 L167.23,159.90 L167.48,159.97 L167.72,160.03 L167.96,160.09 L168.21,160.15 L168.45,160.21 L168.70,160.28 L168.94,160.34 L169.19,160.40 L169.43,160.46 L169.68,160.52 L169.92,160.58 L170.17,160.64 L170.41,160.70 L170.65,160.76 L170.90,160.82 L171.14,160.88 L171.39,160.94 L171.63,161.00 L171.88,161.06 L172.12,161.12 L172.37,161.18 L172.61,161.24 L172.85,161.30 L173.10,161.36 L173.34,161.41 L173.59,161.47 L173.83,161.53 L174.08,161.59 L174.32,161.65 L174.57,161.71 L174.81,161.77 L175.06,161.83 L175.30,161.89 L175.54,161.94 L175.79,162.00 L176.03,162.06 L176.28,162.12 L176.52,162.18 L176.77,162.24 L177.01,162.30 L177.26,162.35 L177.50,162.41 L177.74,162.47 L177.99,162.53 L178.23,162.59 L178.48,162.64 L178.72,162.70 L178.97,162.76 L179.21,162.82 L179.46,162.87 L179.70,162.93 L179.95,162.99 L180.19,163.04 L180.43,163.10 L180.68,163.16 L180.92,163.22 L181.17,163.28 L181.41,163.33 L181.66,163.39 L181.90,163.45 L182.15,163.51 L182.39,163.57 L182.63,163.63 L182.88,163.69 L183.12,163.74 L183.37,163.80 L183.61,163.86 L183.86,163.92 L184.10,163.98 L184.35,164.04 L184.59,164.10 L184.84,164.16 L185.08,164.22 L185.32,164.28 L185.57,164.33 L185.81,164.39 L186.06,164.45 L186.30,164.51 L186.55,164.57 L186.79,164.63 L187.04,164.69 L187.28,164.74 L187.52,164.80 L187.77,164.86 L188.01,164.92 L188.26,164.97 L188.50,165.03 L188.75,165.09 L188.99,165.14 L189.24,165.20 L189.48,165.25 L189.72,165.31 L189.97,165.36 L190.21,165.42 L190.46,165.47 L190.70,165.53 L190.95,165.58 L191.19,165.63 L191.44,165.69 L191.68,165.74 L191.93,165.79 L192.17,165.84 L192.41,165.89 L192.66,165.94 L192.90,165.99 L193.15,166.04 L193.39,166.09 L193.64,166.14 L193.88,166.19 L194.13,166.24 L194.37,166.28 L194.61,166.33 L194.86,166.37 L195.10,166.42 L195.35,166.46 L195.59,166.51 L195.84,166.55 L196.08,166.59 L196.33,166.64 L196.57,166.68 L196.82,166.72 L197.06,166.76 L197.30,166.81 L197.55,166.85 L197.79,166.89 L198.04,166.93 L198.28,166.97 L198.53,167.01 L198.77,167.05 L199.02,167.09 L199.26,167.13 L199.50,167.17 L199.75,167.20 L199.99,167.24 L200.24,167.28 L200.48,167.32 L200.73,167.36 L200.97,167.39 L201.22,167.43 L201.46,167.47 L201.71,167.51 L201.95,167.54 L202.19,167.58 L202.44,167.62 L202.68,167.65 L202.93,167.69 L203.17,167.72 L203.42,167.76 L203.66,167.80 L203.91,167.83 L204.15,167.87 L204.39,167.90 L204.64,167.94 L204.88,167.97 L205.13,168.01 L205.37,168.04 L205.62,168.08 L205.86,168.11 L206.11,168.15 L206.35,168.18 L206.59,168.22 L206.84,168.25 L207.08,168.29 L207.33,168.32 L207.57,168.36 L207.82,168.39 L208.06,168.43 L208.31,168.46 L208.55,168.49 L208.80,168.53 L209.04,168.56 L209.28,168.60 L209.53,168.63 L209.77,168.67 L210.02,168.70 L210.26,168.74 L210.51,168.77 L210.75,168.81 L211.00,168.84 L211.24,168.87 L211.48,168.91 L211.73,168.94 L211.97,168.98 L212.22,169.01 L212.46,169.04 L212.71,169.08 L212.95,169.11 L213.20,169.14 L213.44,169.17 L213.69,169.21 L213.93,169.24 L214.17,169.27 L214.42,169.30 L214.66,169.34 L214.91,169.37 L215.15,169.40 L215.40,169.43 L215.64,169.46 L215.89,169.50 L216.13,169.53 L216.37,169.56 L216.62,169.59 L216.86,169.62 L217.11,169.65 L217.35,169.69 L217.60,169.72 L217.84,169.75 L218.09,169.78 L218.33,169.81 L218.58,169.84 L218.82,169.88 L219.06,169.91 L219.31,169.94 L219.55,169.97 L219.80,170.00 L220.04,170.04 L220.29,170.07 L220.53,170.10 L220.78,170.13 L221.02,170.16 L221.26,170.20 L221.51,170.23 L221.75,170.26 L222.00,170.29 L222.24,170.32 L222.49,170.36 L222.73,170.39 L222.98,170.42 L223.22,170.46 L223.47,170.49 L223.71,170.52 L223.95,170.56 L224.20,170.59 L224.44,170.62 L224.69,170.66 L224.93,170.69 L225.18,170.72 L225.42,170.76 L225.67,170.79 L225.91,170.83 L226.15,170.87 L226.40,170.90 L226.64,170.94 L226.89,170.98 L227.13,171.02 L227.38,171.05 L227.62,171.09 L227.87,171.13 L228.11,171.17 L228.35,171.21 L228.60,171.25 L228.84,171.29 L229.09,171.33 L229.33,171.37 L229.58,171.41 L229.82,171.45 L230.07,171.49 L230.31,171.53 L230.56,171.57 L230.80,171.61 L231.04,171.65 L231.29,171.69 L231.53,171.73 L231.78,171.77 L232.02,171.81 L232.27,171.85 L232.51,171.89 L232.76,171.93 L233.00,171.97 L233.24,172.01 L233.49,172.04 L233.73,172.08 L233.98,172.12 L234.22,172.16 L234.47,172.20 L234.71,172.23 L234.96,172.27 L235.20,172.31 L235.45,172.34 L235.69,172.38 L235.93,172.41 L236.18,172.45 L236.42,172.48 L236.67,172.51 L236.91,172.55 L237.16,172.58 L237.40,172.61 L237.65,172.64 L237.89,172.67 L238.13,172.70 L238.38,172.73 L238.62,172.76 L238.87,172.78 L239.11,172.81 L239.36,172.84 L239.60,172.86 L239.85,172.89 L240.09,172.91 L240.34,172.93 L240.58,172.95 L240.82,172.98 L241.07,173.00 L241.31,173.02 L241.56,173.04 L241.80,173.06 L242.05,173.08 L242.29,173.10 L242.54,173.12 L242.78,173.14 L243.02,173.16 L243.27,173.18 L243.51,173.20 L243.76,173.22 L244.00,173.24 L244.25,173.26 L244.49,173.28 L244.74,173.30 L244.98,173.32 L245.23,173.34 L245.47,173.35 L245.71,173.37 L245.96,173.39 L246.20,173.41 L246.45,173.42 L246.69,173.44 L246.94,173.46 L247.18,173.48 L247.43,173.49 L247.67,173.51 L247.91,173.53 L248.16,173.54 L248.40,173.56 L248.65,173.57 L248.89,173.59 L249.14,173.61 L249.38,173.62 L249.63,173.64 L249.87,173.65 L250.11,173.67 L250.36,173.68 L250.60,173.70 L250.85,173.71 L251.09,173.73 L251.34,173.74 L251.58,173.76 L251.83,173.77 L252.07,173.79 L252.32,173.80 L252.56,173.82 L252.80,173.83 L253.05,173.85 L253.29,173.86 L253.54,173.87 L253.78,173.89 L254.03,173.90 L254.27,173.92 L254.52,173.93 L254.76,173.95 L255.00,173.96 L255.25,173.97 L255.49,173.99 L255.74,174.00 L255.98,174.01 L256.23,174.03 L256.47,174.04 L256.72,174.06 L256.96,174.07 L257.21,174.08 L257.45,174.10 L257.69,174.11 L257.94,174.13 L258.18,174.14 L258.43,174.15 L258.67,174.17 L258.92,174.18 L259.16,174.19 L259.41,174.21 L259.65,174.22 L259.89,174.24 L260.14,174.25 L260.38,174.26 L260.63,174.28 L260.87,174.29 L261.12,174.31 L261.36,174.32 L261.61,174.34 L261.85,174.35 L262.10,174.36 L262.34,174.38 L262.58,174.39 L262.83,174.41 L263.07,174.42 L263.32,174.44 L263.56,174.45 L263.81,174.47 L264.05,174.48 L264.30,174.50 L264.54,174.51 L264.78,174.52 L265.03,174.54 L265.27,174.55 L265.52,174.57 L265.76,174.58 L266.01,174.60 L266.25,174.61 L266.50,174.62 L266.74,174.64 L266.98,174.65 L267.23,174.67 L267.47,174.68 L267.72,174.70 L267.96,174.71 L268.21,174.72 L268.45,174.74 L268.70,174.75 L268.94,174.77 L269.19,174.78 L269.43,174.79 L269.67,174.81 L269.92,174.82 L270.16,174.84 L270.41,174.85 L270.65,174.86 L270.90,174.88 L271.14,174.89 L271.39,174.91 L271.63,174.92 L271.87,174.93 L272.12,174.95 L272.36,174.96 L272.61,174.97 L272.85,174.99 L273.10,175.00 L273.34,175.02 L273.59,175.03 L273.83,175.04 L274.08,175.06 L274.32,175.07 L274.56,175.08 L274.81,175.10 L275.05,175.11 L275.30,175.12 L275.54,175.14 L275.79,175.15 L276.03,175.16 L276.28,175.18 L276.52,175.19 L276.76,175.20 L277.01,175.22 L277.25,175.23 L277.50,175.24 L277.74,175.26 L277.99,175.27 L278.23,175.28 L278.48,175.29 L278.72,175.31 L278.97,175.32 L279.21,175.33 L279.45,175.35 L279.70,175.36 L279.94,175.37 L280.19,175.38 L280.43,175.40 L280.68,175.41 L280.92,175.42 L281.17,175.44 L281.41,175.45 L281.65,175.46 L281.90,175.47 L282.14,175.49 L282.39,175.50 L282.63,175.51 L282.88,175.52 L283.12,175.54 L283.37,175.55 L283.61,175.56 L283.86,175.57 L284.10,175.59 L284.34,175.60 L284.59,175.61 L284.83,175.62 L285.08,175.63 L285.32,175.65 L285.57,175.66 L285.81,175.67 L286.06,175.68 L286.30,175.70" fill="none" stroke="#808000" stroke-width="1.5" stroke-linejoin="round"/>
</g>
<rect x="77.9" y="12.8" width="93.40" height="75.70" fill="none" stroke="#858585" stroke-width="1.1"/>
<path d="M85.58,76.20 L93.71,65.12 L108.90,53.11 L137.67,35.48 L163.86,19.11" fill="none" stroke="#909090" stroke-width="0.8" stroke-linejoin="round"/>
<line x1="163.86" y1="13.60" x2="163.86" y2="23.80" stroke="#ff80ff" stroke-width="0.8"/>
<line x1="162.66" y1="13.80" x2="165.06" y2="13.80" stroke="#ff80ff" stroke-width="0.6"/>
<line x1="162.66" y1="23.60" x2="165.06" y2="23.60" stroke="#ff80ff" stroke-width="0.6"/>
<circle cx="85.58" cy="76.20" r="2.55" fill="#ff0000"/>
<circle cx="93.71" cy="65.12" r="2.55" fill="#00ff00"/>
<circle cx="108.90" cy="53.11" r="2.55" fill="#0000ff"/>
<circle cx="137.67" cy="35.48" r="2.55" fill="#00ffff"/>
<circle cx="163.86" cy="19.11" r="2.55" fill="#ff00ff"/>
<line x1="77.90" y1="76.20" x2="79.50" y2="76.20" stroke="#606060" stroke-width="0.7"/>
<text x="76.70" y="78.90" font-size="7.7" text-anchor="end" fill="#303030" stroke="#303030" stroke-width="0.12">6</text>
<line x1="77.90" y1="58.97" x2="79.50" y2="58.97" stroke="#606060" stroke-width="0.7"/>
<text x="76.70" y="61.67" font-size="7.7" text-anchor="end" fill="#303030" stroke="#303030" stroke-width="0.12">9</text>
<line x1="77.90" y1="41.74" x2="79.50" y2="41.74" stroke="#606060" stroke-width="0.7"/>
<text x="76.70" y="44.44" font-size="7.7" text-anchor="end" fill="#303030" stroke="#303030" stroke-width="0.12">12</text>
<line x1="77.90" y1="24.51" x2="79.50" y2="24.51" stroke="#606060" stroke-width="0.7"/>
<text x="76.70" y="27.21" font-size="7.7" text-anchor="end" fill="#303030" stroke="#303030" stroke-width="0.12">15</text>
<line x1="78.30" y1="88.50" x2="78.30" y2="86.90" stroke="#606060" stroke-width="0.7"/>
<text x="78.30" y="95.90" font-size="7.5" text-anchor="middle" fill="#303030" stroke="#303030" stroke-width="0.12">0</text>
<line x1="101.55" y1="88.50" x2="101.55" y2="86.90" stroke="#606060" stroke-width="0.7"/>
<text x="101.55" y="95.90" font-size="7.5" text-anchor="middle" fill="#303030" stroke="#303030" stroke-width="0.12">150</text>
<line x1="124.80" y1="88.50" x2="124.80" y2="86.90" stroke="#606060" stroke-width="0.7"/>
<text x="124.80" y="95.90" font-size="7.5" text-anchor="middle" fill="#303030" stroke="#303030" stroke-width="0.12">300</text>
<line x1="148.05" y1="88.50" x2="148.05" y2="86.90" stroke="#606060" stroke-width="0.7"/>
<text x="148.05" y="95.90" font-size="7.5" text-anchor="middle" fill="#303030" stroke="#303030" stroke-width="0.12">450</text>
<line x1="171.30" y1="88.50" x2="171.30" y2="86.90" stroke="#606060" stroke-width="0.7"/>
<text x="171.30" y="95.90" font-size="7.5" text-anchor="middle" fill="#303030" stroke="#303030" stroke-width="0.12">600</text>
<text x="86.80" y="40.80" font-size="7.7" text-anchor="middle" fill="#202020" stroke="#202020" stroke-width="0.12" transform="rotate(-90 86.80 40.80)">Current/µA</text>
<text x="125.80" y="86.10" font-size="7.8" text-anchor="middle" fill="#202020" stroke="#202020" stroke-width="0.12">[DA]/nM</text>
<rect x="66.5" y="10.0" width="219.8" height="177.4" fill="none" stroke="#000" stroke-width="1.3"/>
<line x1="63.10" y1="173.68" x2="66.50" y2="173.68" stroke="#000" stroke-width="1.3"/>
<text x="61.20" y="177.78" font-size="13.4" text-anchor="end" fill="#000" stroke="#000" stroke-width="0.22">4</text>
<line x1="63.10" y1="146.40" x2="66.50" y2="146.40" stroke="#000" stroke-width="1.3"/>
<text x="61.20" y="150.50" font-size="13.4" text-anchor="end" fill="#000" stroke="#000" stroke-width="0.22">6</text>
<line x1="63.10" y1="119.12" x2="66.50" y2="119.12" stroke="#000" stroke-width="1.3"/>
<text x="61.20" y="123.22" font-size="13.4" text-anchor="end" fill="#000" stroke="#000" stroke-width="0.22">8</text>
<line x1="63.10" y1="91.84" x2="66.50" y2="91.84" stroke="#000" stroke-width="1.3"/>
<text x="61.20" y="95.94" font-size="13.4" text-anchor="end" fill="#000" stroke="#000" stroke-width="0.22">10</text>
<line x1="63.10" y1="64.56" x2="66.50" y2="64.56" stroke="#000" stroke-width="1.3"/>
<text x="61.20" y="68.66" font-size="13.4" text-anchor="end" fill="#000" stroke="#000" stroke-width="0.22">12</text>
<line x1="63.10" y1="37.28" x2="66.50" y2="37.28" stroke="#000" stroke-width="1.3"/>
<text x="61.20" y="41.38" font-size="13.4" text-anchor="end" fill="#000" stroke="#000" stroke-width="0.22">14</text>
<line x1="63.10" y1="10.00" x2="66.50" y2="10.00" stroke="#000" stroke-width="1.3"/>
<text x="61.20" y="14.10" font-size="13.4" text-anchor="end" fill="#000" stroke="#000" stroke-width="0.22">16</text>
<line x1="66.50" y1="187.40" x2="66.50" y2="190.60" stroke="#000" stroke-width="1.3"/>
<text x="66.50" y="203.30" font-size="13.4" text-anchor="middle" fill="#000" stroke="#000" stroke-width="0.22">-0.2</text>
<line x1="106.50" y1="187.40" x2="106.50" y2="190.60" stroke="#000" stroke-width="1.3"/>
<text x="106.50" y="203.30" font-size="13.4" text-anchor="middle" fill="#000" stroke="#000" stroke-width="0.22">0.0</text>
<line x1="146.50" y1="187.40" x2="146.50" y2="190.60" stroke="#000" stroke-width="1.3"/>
<text x="146.50" y="203.30" font-size="13.4" text-anchor="middle" fill="#000" stroke="#000" stroke-width="0.22">0.2</text>
<line x1="186.50" y1="187.40" x2="186.50" y2="190.60" stroke="#000" stroke-width="1.3"/>
<text x="186.50" y="203.30" font-size="13.4" text-anchor="middle" fill="#000" stroke="#000" stroke-width="0.22">0.4</text>
<line x1="226.50" y1="187.40" x2="226.50" y2="190.60" stroke="#000" stroke-width="1.3"/>
<text x="226.50" y="203.30" font-size="13.4" text-anchor="middle" fill="#000" stroke="#000" stroke-width="0.22">0.6</text>
<line x1="266.50" y1="187.40" x2="266.50" y2="190.60" stroke="#000" stroke-width="1.3"/>
<text x="266.50" y="203.30" font-size="13.4" text-anchor="middle" fill="#000" stroke="#000" stroke-width="0.22">0.8</text>
<text x="171.50" y="218.00" font-size="13.4" text-anchor="middle" fill="#000" stroke="#000" stroke-width="0.22">E(V) Vs. Ag /AgCl</text>
<text x="43.30" y="107.80" font-size="13.5" text-anchor="middle" fill="#000" stroke="#000" stroke-width="0.22" transform="rotate(-90 43.30 107.80)">Current (µA)</text>
<text x="195.00" y="28.60" font-size="18.8" text-anchor="start" fill="#1515d0" stroke="#1515d0" stroke-width="0.05">DA</text>
<text x="265.20" y="28.60" font-size="18.4" text-anchor="start" fill="#000" stroke="#000" stroke-width="0.05">A</text>
<text x="122.80" y="151.20" font-size="18.6" text-anchor="start" fill="#1515d0" stroke="#1515d0" stroke-width="0.05">AA</text>
<text x="105.50" y="171.50" font-size="14.0" text-anchor="start" fill="#1515d0" stroke="#1515d0" stroke-width="0.22">1500 nM</text>
<text x="215.30" y="127.60" font-size="14.0" text-anchor="start" fill="#1515d0" stroke="#1515d0" stroke-width="0.22">150 nM</text>
<text x="217.80" y="146.50" font-size="18.6" text-anchor="start" fill="#1515d0" stroke="#1515d0" stroke-width="0.05">UA</text>
<path d="M342.20,53.70 L363.20,43.40 L384.20,58.10 L405.20,40.80 L426.20,50.30 L447.20,35.20 L468.20,52.40 L489.20,44.30 L510.20,61.70 L531.20,48.30" fill="none" stroke="#a0a0a0" stroke-width="0.9" stroke-linejoin="round"/>
<circle cx="342.20" cy="53.70" r="5.25" fill="#fff" stroke="#ff0000" stroke-width="1.0"/>
<path d="M336.96,54.00 A5.25,5.25 0 1 1 347.44,54.00 Z" fill="#ff0000" stroke="#ff0000" stroke-width="1.0"/>
<circle cx="363.20" cy="43.40" r="5.25" fill="#fff" stroke="#00ff00" stroke-width="1.0"/>
<path d="M357.96,43.70 A5.25,5.25 0 1 1 368.44,43.70 Z" fill="#00ff00" stroke="#00ff00" stroke-width="1.0"/>
<circle cx="384.20" cy="58.10" r="5.25" fill="#fff" stroke="#0000ff" stroke-width="1.0"/>
<path d="M378.96,58.40 A5.25,5.25 0 1 1 389.44,58.40 Z" fill="#0000ff" stroke="#0000ff" stroke-width="1.0"/>
<circle cx="405.20" cy="40.80" r="5.25" fill="#fff" stroke="#00ffff" stroke-width="1.0"/>
<path d="M399.96,41.10 A5.25,5.25 0 1 1 410.44,41.10 Z" fill="#00ffff" stroke="#00ffff" stroke-width="1.0"/>
<circle cx="426.20" cy="50.30" r="5.25" fill="#fff" stroke="#ff00ff" stroke-width="1.0"/>
<path d="M420.96,50.60 A5.25,5.25 0 1 1 431.44,50.60 Z" fill="#ff00ff" stroke="#ff00ff" stroke-width="1.0"/>
<circle cx="447.20" cy="35.20" r="5.25" fill="#fff" stroke="#ffff00" stroke-width="1.0"/>
<path d="M441.96,35.50 A5.25,5.25 0 1 1 452.44,35.50 Z" fill="#ffff00" stroke="#ffff00" stroke-width="1.0"/>
<circle cx="468.20" cy="52.40" r="5.25" fill="#fff" stroke="#808000" stroke-width="1.0"/>
<path d="M462.96,52.70 A5.25,5.25 0 1 1 473.44,52.70 Z" fill="#808000" stroke="#808000" stroke-width="1.0"/>
<circle cx="489.20" cy="44.30" r="5.25" fill="#fff" stroke="#000080" stroke-width="1.0"/>
<path d="M483.96,44.60 A5.25,5.25 0 1 1 494.44,44.60 Z" fill="#000080" stroke="#000080" stroke-width="1.0"/>
<circle cx="510.20" cy="61.70" r="5.25" fill="#fff" stroke="#800080" stroke-width="1.0"/>
<path d="M504.96,62.00 A5.25,5.25 0 1 1 515.44,62.00 Z" fill="#800080" stroke="#800080" stroke-width="1.0"/>
<circle cx="531.20" cy="48.30" r="5.25" fill="#fff" stroke="#800000" stroke-width="1.0"/>
<path d="M525.96,48.60 A5.25,5.25 0 1 1 536.44,48.60 Z" fill="#800000" stroke="#800000" stroke-width="1.0"/>
<rect x="321.2" y="9.7" width="219.8" height="177.70000000000002" fill="none" stroke="#000" stroke-width="1.3"/>
<line x1="317.80" y1="187.42" x2="321.20" y2="187.42" stroke="#000" stroke-width="1.3"/>
<text x="316.00" y="191.52" font-size="13.4" text-anchor="end" fill="#000" stroke="#000" stroke-width="0.22">-2</text>
<line x1="317.80" y1="155.00" x2="321.20" y2="155.00" stroke="#000" stroke-width="1.3"/>
<text x="316.00" y="159.10" font-size="13.4" text-anchor="end" fill="#000" stroke="#000" stroke-width="0.22">0</text>
<line x1="317.80" y1="122.58" x2="321.20" y2="122.58" stroke="#000" stroke-width="1.3"/>
<text x="316.00" y="126.68" font-size="13.4" text-anchor="end" fill="#000" stroke="#000" stroke-width="0.22">2</text>
<line x1="317.80" y1="90.16" x2="321.20" y2="90.16" stroke="#000" stroke-width="1.3"/>
<text x="316.00" y="94.26" font-size="13.4" text-anchor="end" fill="#000" stroke="#000" stroke-width="0.22">4</text>
<line x1="317.80" y1="57.74" x2="321.20" y2="57.74" stroke="#000" stroke-width="1.3"/>
<text x="316.00" y="61.84" font-size="13.4" text-anchor="end" fill="#000" stroke="#000" stroke-width="0.22">6</text>
<line x1="317.80" y1="25.32" x2="321.20" y2="25.32" stroke="#000" stroke-width="1.3"/>
<text x="316.00" y="29.42" font-size="13.4" text-anchor="end" fill="#000" stroke="#000" stroke-width="0.22">8</text>
<line x1="321.20" y1="187.40" x2="321.20" y2="190.60" stroke="#000" stroke-width="1.3"/>
<text x="321.20" y="203.10" font-size="13.4" text-anchor="middle" fill="#000" stroke="#000" stroke-width="0.22">0</text>
<line x1="363.20" y1="187.40" x2="363.20" y2="190.60" stroke="#000" stroke-width="1.3"/>
<text x="363.20" y="203.10" font-size="13.4" text-anchor="middle" fill="#000" stroke="#000" stroke-width="0.22">2</text>
<line x1="405.20" y1="187.40" x2="405.20" y2="190.60" stroke="#000" stroke-width="1.3"/>
<text x="405.20" y="203.10" font-size="13.4" text-anchor="middle" fill="#000" stroke="#000" stroke-width="0.22">4</text>
<line x1="447.20" y1="187.40" x2="447.20" y2="190.60" stroke="#000" stroke-width="1.3"/>
<text x="447.20" y="203.10" font-size="13.4" text-anchor="middle" fill="#000" stroke="#000" stroke-width="0.22">6</text>
<line x1="489.20" y1="187.40" x2="489.20" y2="190.60" stroke="#000" stroke-width="1.3"/>
<text x="489.20" y="203.10" font-size="13.4" text-anchor="middle" fill="#000" stroke="#000" stroke-width="0.22">8</text>
<line x1="531.20" y1="187.40" x2="531.20" y2="190.60" stroke="#000" stroke-width="1.3"/>
<text x="531.20" y="203.10" font-size="13.4" text-anchor="middle" fill="#000" stroke="#000" stroke-width="0.22">10</text>
<text x="436.50" y="218.60" font-size="13.6" text-anchor="middle" fill="#000" stroke="#000" stroke-width="0.22">Electrodes</text>
<text x="300.20" y="90.60" font-size="13.6" text-anchor="middle" fill="#000" stroke="#000" stroke-width="0.22" transform="rotate(-90 300.20 90.60)">Current/µA</text>
<text x="328.30" y="29.00" font-size="18.6" text-anchor="start" fill="#000" stroke="#000" stroke-width="0.05">B</text>
<defs>
<linearGradient id="g0" x1="0" x2="1" y1="0" y2="0"><stop offset="0" stop-color="#0000ff"/><stop offset="0.24" stop-color="#0000ff"/><stop offset="0.43" stop-color="#000019"/><stop offset="0.57" stop-color="#000019"/><stop offset="0.76" stop-color="#0000ff"/><stop offset="1" stop-color="#0000ff"/></linearGradient>
<linearGradient id="g1" x1="0" x2="1" y1="0" y2="0"><stop offset="0" stop-color="#00ffff"/><stop offset="0.24" stop-color="#00ffff"/><stop offset="0.43" stop-color="#001919"/><stop offset="0.57" stop-color="#001919"/><stop offset="0.76" stop-color="#00ffff"/><stop offset="1" stop-color="#00ffff"/></linearGradient>
<linearGradient id="g2" x1="0" x2="1" y1="0" y2="0"><stop offset="0" stop-color="#ff00ff"/><stop offset="0.24" stop-color="#ff00ff"/><stop offset="0.43" stop-color="#190019"/><stop offset="0.57" stop-color="#190019"/><stop offset="0.76" stop-color="#ff00ff"/><stop offset="1" stop-color="#ff00ff"/></linearGradient>
<linearGradient id="g3" x1="0" x2="1" y1="0" y2="0"><stop offset="0" stop-color="#ffff00"/><stop offset="0.24" stop-color="#ffff00"/><stop offset="0.43" stop-color="#191900"/><stop offset="0.57" stop-color="#191900"/><stop offset="0.76" stop-color="#ffff00"/><stop offset="1" stop-color="#ffff00"/></linearGradient>
<linearGradient id="g4" x1="0" x2="1" y1="0" y2="0"><stop offset="0" stop-color="#808000"/><stop offset="0.24" stop-color="#808000"/><stop offset="0.43" stop-color="#0c0c00"/><stop offset="0.57" stop-color="#0c0c00"/><stop offset="0.76" stop-color="#808000"/><stop offset="1" stop-color="#808000"/></linearGradient>
<linearGradient id="g5" x1="0" x2="1" y1="0" y2="0"><stop offset="0" stop-color="#000080"/><stop offset="0.24" stop-color="#000080"/><stop offset="0.43" stop-color="#00000c"/><stop offset="0.57" stop-color="#00000c"/><stop offset="0.76" stop-color="#000080"/><stop offset="1" stop-color="#000080"/></linearGradient>
<linearGradient id="g6" x1="0" x2="1" y1="0" y2="0"><stop offset="0" stop-color="#800080"/><stop offset="0.24" stop-color="#800080"/><stop offset="0.43" stop-color="#0c000c"/><stop offset="0.57" stop-color="#0c000c"/><stop offset="0.76" stop-color="#800080"/><stop offset="1" stop-color="#800080"/></linearGradient>
<linearGradient id="g7" x1="0" x2="1" y1="0" y2="0"><stop offset="0" stop-color="#800000"/><stop offset="0.24" stop-color="#800000"/><stop offset="0.43" stop-color="#0c0000"/><stop offset="0.57" stop-color="#0c0000"/><stop offset="0.76" stop-color="#800000"/><stop offset="1" stop-color="#800000"/></linearGradient>
<linearGradient id="g8" x1="0" x2="1" y1="0" y2="0"><stop offset="0" stop-color="#008000"/><stop offset="0.24" stop-color="#008000"/><stop offset="0.43" stop-color="#000c00"/><stop offset="0.57" stop-color="#000c00"/><stop offset="0.76" stop-color="#008000"/><stop offset="1" stop-color="#008000"/></linearGradient>
<linearGradient id="g9" x1="0" x2="1" y1="0" y2="0"><stop offset="0" stop-color="#008080"/><stop offset="0.24" stop-color="#008080"/><stop offset="0.43" stop-color="#000c0c"/><stop offset="0.57" stop-color="#000c0c"/><stop offset="0.76" stop-color="#008080"/><stop offset="1" stop-color="#008080"/></linearGradient>
</defs>
<rect x="82.15" y="260.60" width="10.8" height="142.80" fill="url(#g0)"/>
<line x1="87.55" y1="252.50" x2="87.55" y2="269.40" stroke="#000" stroke-width="1.3"/>
<line x1="85.35" y1="252.50" x2="89.75" y2="252.50" stroke="#000" stroke-width="1.3"/>
<line x1="85.35" y1="269.40" x2="89.75" y2="269.40" stroke="#000" stroke-width="1.3"/>
<rect x="103.00" y="262.70" width="10.8" height="140.70" fill="url(#g1)"/>
<line x1="108.40" y1="254.60" x2="108.40" y2="271.50" stroke="#000" stroke-width="1.3"/>
<line x1="106.20" y1="254.60" x2="110.60" y2="254.60" stroke="#000" stroke-width="1.3"/>
<line x1="106.20" y1="271.50" x2="110.60" y2="271.50" stroke="#000" stroke-width="1.3"/>
<rect x="123.85" y="267.40" width="10.8" height="136.00" fill="url(#g2)"/>
<line x1="129.25" y1="259.30" x2="129.25" y2="276.20" stroke="#000" stroke-width="1.3"/>
<line x1="127.05" y1="259.30" x2="131.45" y2="259.30" stroke="#000" stroke-width="1.3"/>
<line x1="127.05" y1="276.20" x2="131.45" y2="276.20" stroke="#000" stroke-width="1.3"/>
<rect x="144.70" y="270.80" width="10.8" height="132.60" fill="url(#g3)"/>
<line x1="150.10" y1="262.70" x2="150.10" y2="279.60" stroke="#000" stroke-width="1.3"/>
<line x1="147.90" y1="262.70" x2="152.30" y2="262.70" stroke="#000" stroke-width="1.3"/>
<line x1="147.90" y1="279.60" x2="152.30" y2="279.60" stroke="#000" stroke-width="1.3"/>
<rect x="165.55" y="274.10" width="10.8" height="129.30" fill="url(#g4)"/>
<line x1="170.95" y1="266.00" x2="170.95" y2="282.90" stroke="#000" stroke-width="1.3"/>
<line x1="168.75" y1="266.00" x2="173.15" y2="266.00" stroke="#000" stroke-width="1.3"/>
<line x1="168.75" y1="282.90" x2="173.15" y2="282.90" stroke="#000" stroke-width="1.3"/>
<rect x="186.40" y="277.80" width="10.8" height="125.60" fill="url(#g5)"/>
<line x1="191.80" y1="269.70" x2="191.80" y2="286.60" stroke="#000" stroke-width="1.3"/>
<line x1="189.60" y1="269.70" x2="194.00" y2="269.70" stroke="#000" stroke-width="1.3"/>
<line x1="189.60" y1="286.60" x2="194.00" y2="286.60" stroke="#000" stroke-width="1.3"/>
<rect x="207.25" y="280.30" width="10.8" height="123.10" fill="url(#g6)"/>
<line x1="212.65" y1="272.20" x2="212.65" y2="289.10" stroke="#000" stroke-width="1.3"/>
<line x1="210.45" y1="272.20" x2="214.85" y2="272.20" stroke="#000" stroke-width="1.3"/>
<line x1="210.45" y1="289.10" x2="214.85" y2="289.10" stroke="#000" stroke-width="1.3"/>
<rect x="228.10" y="284.30" width="10.8" height="119.10" fill="url(#g7)"/>
<line x1="233.50" y1="276.20" x2="233.50" y2="293.10" stroke="#000" stroke-width="1.3"/>
<line x1="231.30" y1="276.20" x2="235.70" y2="276.20" stroke="#000" stroke-width="1.3"/>
<line x1="231.30" y1="293.10" x2="235.70" y2="293.10" stroke="#000" stroke-width="1.3"/>
<rect x="248.95" y="287.90" width="10.8" height="115.50" fill="url(#g8)"/>
<line x1="254.35" y1="279.80" x2="254.35" y2="296.70" stroke="#000" stroke-width="1.3"/>
<line x1="252.15" y1="279.80" x2="256.55" y2="279.80" stroke="#000" stroke-width="1.3"/>
<line x1="252.15" y1="296.70" x2="256.55" y2="296.70" stroke="#000" stroke-width="1.3"/>
<rect x="269.80" y="291.40" width="10.8" height="112.00" fill="url(#g9)"/>
<line x1="275.20" y1="283.30" x2="275.20" y2="300.20" stroke="#000" stroke-width="1.3"/>
<line x1="273.00" y1="283.30" x2="277.40" y2="283.30" stroke="#000" stroke-width="1.3"/>
<line x1="273.00" y1="300.20" x2="277.40" y2="300.20" stroke="#000" stroke-width="1.3"/>
<line x1="91.60" y1="247.20" x2="272.00" y2="247.20" stroke="#ff3618" stroke-width="1.35" stroke-dasharray="1.15,1.3"/>
<circle cx="88.4" cy="247.2" r="1.75" fill="#ff3618"/>
<circle cx="273.6" cy="247.2" r="1.75" fill="#ff3618"/>
<line x1="274.70" y1="251.80" x2="274.70" y2="279.60" stroke="#ff3618" stroke-width="1.5"/>
<circle cx="274.7" cy="251.8" r="1.75" fill="#ff3618"/>
<circle cx="274.7" cy="279.6" r="1.75" fill="#ff3618"/>
<text x="253.10" y="259.60" font-size="5.6" text-anchor="middle" fill="#2a2a2a" stroke="#2a2a2a" stroke-width="0.12" textLength="14" lengthAdjust="spacingAndGlyphs">3.17 %</text>
<rect x="66.7" y="225.0" width="219.60000000000002" height="178.39999999999998" fill="none" stroke="#000" stroke-width="1.3"/>
<line x1="63.10" y1="403.40" x2="66.70" y2="403.40" stroke="#000" stroke-width="1.3"/>
<text x="61.00" y="407.50" font-size="13.4" text-anchor="end" fill="#000" stroke="#000" stroke-width="0.22">80</text>
<line x1="63.10" y1="367.72" x2="66.70" y2="367.72" stroke="#000" stroke-width="1.3"/>
<text x="61.00" y="371.82" font-size="13.4" text-anchor="end" fill="#000" stroke="#000" stroke-width="0.22">85</text>
<line x1="63.10" y1="332.05" x2="66.70" y2="332.05" stroke="#000" stroke-width="1.3"/>
<text x="61.00" y="336.15" font-size="13.4" text-anchor="end" fill="#000" stroke="#000" stroke-width="0.22">90</text>
<line x1="63.10" y1="296.38" x2="66.70" y2="296.38" stroke="#000" stroke-width="1.3"/>
<text x="61.00" y="300.48" font-size="13.4" text-anchor="end" fill="#000" stroke="#000" stroke-width="0.22">95</text>
<line x1="63.10" y1="260.70" x2="66.70" y2="260.70" stroke="#000" stroke-width="1.3"/>
<text x="61.00" y="264.80" font-size="13.4" text-anchor="end" fill="#000" stroke="#000" stroke-width="0.22">100</text>
<line x1="63.10" y1="225.02" x2="66.70" y2="225.02" stroke="#000" stroke-width="1.3"/>
<text x="61.00" y="229.12" font-size="13.4" text-anchor="end" fill="#000" stroke="#000" stroke-width="0.22">105</text>
<line x1="66.70" y1="403.40" x2="66.70" y2="406.70" stroke="#000" stroke-width="1.3"/>
<text x="66.70" y="420.60" font-size="13.4" text-anchor="middle" fill="#000" stroke="#000" stroke-width="0.22">0</text>
<line x1="108.40" y1="403.40" x2="108.40" y2="406.70" stroke="#000" stroke-width="1.3"/>
<text x="108.40" y="420.60" font-size="13.4" text-anchor="middle" fill="#000" stroke="#000" stroke-width="0.22">2</text>
<line x1="150.10" y1="403.40" x2="150.10" y2="406.70" stroke="#000" stroke-width="1.3"/>
<text x="150.10" y="420.60" font-size="13.4" text-anchor="middle" fill="#000" stroke="#000" stroke-width="0.22">4</text>
<line x1="191.80" y1="403.40" x2="191.80" y2="406.70" stroke="#000" stroke-width="1.3"/>
<text x="191.80" y="420.60" font-size="13.4" text-anchor="middle" fill="#000" stroke="#000" stroke-width="0.22">6</text>
<line x1="233.50" y1="403.40" x2="233.50" y2="406.70" stroke="#000" stroke-width="1.3"/>
<text x="233.50" y="420.60" font-size="13.4" text-anchor="middle" fill="#000" stroke="#000" stroke-width="0.22">8</text>
<line x1="275.20" y1="403.40" x2="275.20" y2="406.70" stroke="#000" stroke-width="1.3"/>
<text x="275.20" y="420.60" font-size="13.4" text-anchor="middle" fill="#000" stroke="#000" stroke-width="0.22">10</text>
<text x="176.50" y="435.50" font-size="17.4" text-anchor="middle" fill="#000" stroke="#000" stroke-width="0.05">Time/day</text>
<text x="18.90" y="325.90" font-size="21.0" text-anchor="middle" fill="#000" stroke="#000" stroke-width="0.05" transform="rotate(-90 18.90 325.90)">Response</text>
<text x="41.30" y="328.60" font-size="19.0" text-anchor="middle" fill="#000" stroke="#000" stroke-width="0.05" transform="rotate(-90 41.30 328.60)">Efficiency (%)</text>
<text x="69.60" y="241.10" font-size="18.4" text-anchor="start" fill="#000" stroke="#000" stroke-width="0.05">C</text>
<rect x="341.30" y="387.68" width="16.6" height="13.82" fill="#ff0000"/>
<rect x="396.70" y="235.66" width="16.6" height="165.84" fill="#ff0000"/>
<rect x="451.90" y="373.86" width="16.6" height="27.64" fill="#ff0000"/>
<rect x="506.70" y="380.77" width="16.6" height="20.73" fill="#ff0000"/>
<rect x="322.6" y="223.0" width="219.60000000000002" height="178.5" fill="none" stroke="#000" stroke-width="1.3"/>
<line x1="322.60" y1="401.50" x2="326.40" y2="401.50" stroke="#000" stroke-width="1.3"/>
<text x="318.60" y="405.60" font-size="13.4" text-anchor="end" fill="#000" stroke="#000" stroke-width="0.22">0</text>
<line x1="322.60" y1="366.95" x2="326.40" y2="366.95" stroke="#000" stroke-width="1.3"/>
<text x="318.60" y="371.05" font-size="13.4" text-anchor="end" fill="#000" stroke="#000" stroke-width="0.22">5</text>
<line x1="322.60" y1="332.40" x2="326.40" y2="332.40" stroke="#000" stroke-width="1.3"/>
<text x="318.60" y="336.50" font-size="13.4" text-anchor="end" fill="#000" stroke="#000" stroke-width="0.22">10</text>
<line x1="322.60" y1="297.85" x2="326.40" y2="297.85" stroke="#000" stroke-width="1.3"/>
<text x="318.60" y="301.95" font-size="13.4" text-anchor="end" fill="#000" stroke="#000" stroke-width="0.22">15</text>
<line x1="322.60" y1="263.30" x2="326.40" y2="263.30" stroke="#000" stroke-width="1.3"/>
<text x="318.60" y="267.40" font-size="13.4" text-anchor="end" fill="#000" stroke="#000" stroke-width="0.22">20</text>
<line x1="322.60" y1="228.75" x2="326.40" y2="228.75" stroke="#000" stroke-width="1.3"/>
<text x="318.60" y="232.85" font-size="13.4" text-anchor="end" fill="#000" stroke="#000" stroke-width="0.22">25</text>
<line x1="349.60" y1="401.50" x2="349.60" y2="398.50" stroke="#000" stroke-width="1.3"/>
<text x="349.60" y="415.60" font-size="13.4" text-anchor="middle" fill="#000" stroke="#000" stroke-width="0.22">AA</text>
<line x1="405.00" y1="401.50" x2="405.00" y2="398.50" stroke="#000" stroke-width="1.3"/>
<text x="405.00" y="415.60" font-size="13.4" text-anchor="middle" fill="#000" stroke="#000" stroke-width="0.22">DA</text>
<line x1="460.20" y1="401.50" x2="460.20" y2="398.50" stroke="#000" stroke-width="1.3"/>
<text x="460.20" y="415.60" font-size="13.4" text-anchor="middle" fill="#000" stroke="#000" stroke-width="0.22">Gluocse</text>
<line x1="515.00" y1="401.50" x2="515.00" y2="398.50" stroke="#000" stroke-width="1.3"/>
<text x="515.00" y="415.60" font-size="13.4" text-anchor="middle" fill="#000" stroke="#000" stroke-width="0.22">UA</text>
<text x="427.50" y="427.60" font-size="13.4" text-anchor="middle" fill="#000" stroke="#000" stroke-width="0.22">[DA]/nM</text>
<text x="300.60" y="315.60" font-size="13.4" text-anchor="middle" fill="#000" stroke="#000" stroke-width="0.22" transform="rotate(-90 300.60 315.60)">Current/µA</text>
<text x="327.50" y="243.90" font-size="18.6" text-anchor="start" fill="#000" stroke="#000" stroke-width="0.05">D</text>
<rect x="442.50" y="301.12" width="7.2" height="9.28" fill="#10f010"/>
<rect x="464.60" y="238.48" width="7.2" height="71.92" fill="#10f010"/>
<rect x="486.80" y="296.48" width="7.2" height="13.92" fill="#10f010"/>
<rect x="509.10" y="298.80" width="7.2" height="11.60" fill="#10f010"/>
<rect x="434.7" y="229.2" width="97.69999999999999" height="81.19999999999999" fill="none" stroke="#505050" stroke-width="0.9"/>
<line x1="433.20" y1="310.40" x2="434.70" y2="310.40" stroke="#606060" stroke-width="0.7"/>
<text x="433.60" y="312.60" font-size="6.4" text-anchor="end" fill="#202020" stroke="#202020" stroke-width="0.12">0</text>
<line x1="433.20" y1="298.80" x2="434.70" y2="298.80" stroke="#606060" stroke-width="0.7"/>
<text x="433.60" y="301.00" font-size="6.4" text-anchor="end" fill="#202020" stroke="#202020" stroke-width="0.12">5</text>
<line x1="433.20" y1="287.20" x2="434.70" y2="287.20" stroke="#606060" stroke-width="0.7"/>
<text x="433.60" y="289.40" font-size="6.4" text-anchor="end" fill="#202020" stroke="#202020" stroke-width="0.12">10</text>
<line x1="433.20" y1="275.60" x2="434.70" y2="275.60" stroke="#606060" stroke-width="0.7"/>
<text x="433.60" y="277.80" font-size="6.4" text-anchor="end" fill="#202020" stroke="#202020" stroke-width="0.12">15</text>
<line x1="433.20" y1="264.00" x2="434.70" y2="264.00" stroke="#606060" stroke-width="0.7"/>
<text x="433.60" y="266.20" font-size="6.4" text-anchor="end" fill="#202020" stroke="#202020" stroke-width="0.12">20</text>
<line x1="433.20" y1="252.40" x2="434.70" y2="252.40" stroke="#606060" stroke-width="0.7"/>
<text x="433.60" y="254.60" font-size="6.4" text-anchor="end" fill="#202020" stroke="#202020" stroke-width="0.12">25</text>
<line x1="433.20" y1="240.80" x2="434.70" y2="240.80" stroke="#606060" stroke-width="0.7"/>
<text x="433.60" y="243.00" font-size="6.4" text-anchor="end" fill="#202020" stroke="#202020" stroke-width="0.12">30</text>
<line x1="433.20" y1="229.20" x2="434.70" y2="229.20" stroke="#606060" stroke-width="0.7"/>
<text x="433.60" y="231.40" font-size="6.4" text-anchor="end" fill="#202020" stroke="#202020" stroke-width="0.12">35</text>
<line x1="446.10" y1="310.40" x2="446.10" y2="311.90" stroke="#606060" stroke-width="0.7"/>
<text x="446.10" y="316.50" font-size="6.5" text-anchor="middle" fill="#202020" stroke="#202020" stroke-width="0.12">NaCl</text>
<line x1="468.20" y1="310.40" x2="468.20" y2="311.90" stroke="#606060" stroke-width="0.7"/>
<text x="468.20" y="316.50" font-size="6.5" text-anchor="middle" fill="#202020" stroke="#202020" stroke-width="0.12">DA</text>
<line x1="490.40" y1="310.40" x2="490.40" y2="311.90" stroke="#606060" stroke-width="0.7"/>
<text x="490.40" y="316.50" font-size="6.5" text-anchor="middle" fill="#202020" stroke="#202020" stroke-width="0.12">KCl</text>
<line x1="512.70" y1="310.40" x2="512.70" y2="311.90" stroke="#606060" stroke-width="0.7"/>
<text x="512.70" y="316.50" font-size="6.5" text-anchor="middle" fill="#202020" stroke="#202020" stroke-width="0.12">K2SO4</text>
<text x="481.80" y="324.60" font-size="8.2" text-anchor="middle" fill="#303030" stroke="#303030" stroke-width="0.12">[DA]/nM</text>
<text x="424.40" y="272.80" font-size="7.7" text-anchor="middle" fill="#202020" stroke="#202020" stroke-width="0.12" transform="rotate(-90 424.40 272.80)">Current/µA</text>
</svg>
</body></html>
